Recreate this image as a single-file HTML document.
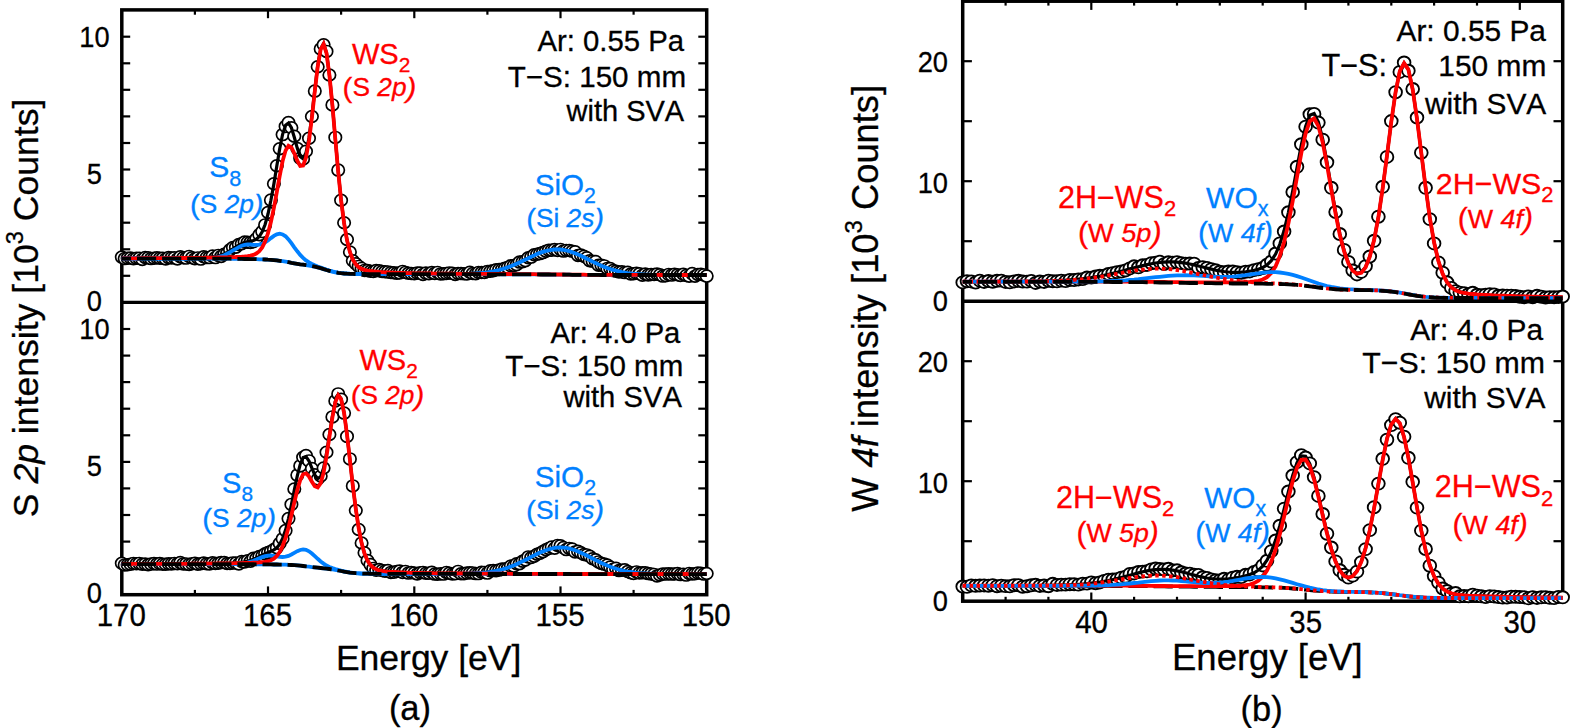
<!DOCTYPE html>
<html><head><meta charset="utf-8"><title>XPS spectra</title>
<style>
html,body{margin:0;padding:0;background:#fff;}
body{width:1570px;height:728px;overflow:hidden;}
svg{display:block;font-family:"Liberation Sans",sans-serif;}
polyline{fill:none;stroke-linejoin:miter;stroke-miterlimit:10;}
text{white-space:pre;font-kerning:none;stroke-width:0.3px;paint-order:stroke;}
</style></head><body>
<svg width="1570" height="728" viewBox="0 0 1570 728">
<rect width="1570" height="728" fill="#fff"/>
<g stroke="#000" fill="none"><rect x="121.8" y="9.9" width="584.9" height="584.8" fill="none" stroke-width="3.5"/>
<line x1="194.9" y1="9.9" x2="194.9" y2="14.7" stroke-width="2.2"/>
<line x1="194.9" y1="594.7" x2="194.9" y2="589.9" stroke-width="2.2"/>
<line x1="268.0" y1="9.9" x2="268.0" y2="18.2" stroke-width="2.2"/>
<line x1="268.0" y1="594.7" x2="268.0" y2="586.4" stroke-width="2.2"/>
<line x1="341.1" y1="9.9" x2="341.1" y2="14.7" stroke-width="2.2"/>
<line x1="341.1" y1="594.7" x2="341.1" y2="589.9" stroke-width="2.2"/>
<line x1="414.3" y1="9.9" x2="414.3" y2="18.2" stroke-width="2.2"/>
<line x1="414.3" y1="594.7" x2="414.3" y2="586.4" stroke-width="2.2"/>
<line x1="487.4" y1="9.9" x2="487.4" y2="14.7" stroke-width="2.2"/>
<line x1="487.4" y1="594.7" x2="487.4" y2="589.9" stroke-width="2.2"/>
<line x1="560.5" y1="9.9" x2="560.5" y2="18.2" stroke-width="2.2"/>
<line x1="560.5" y1="594.7" x2="560.5" y2="586.4" stroke-width="2.2"/>
<line x1="633.6" y1="9.9" x2="633.6" y2="14.7" stroke-width="2.2"/>
<line x1="633.6" y1="594.7" x2="633.6" y2="589.9" stroke-width="2.2"/>
<line x1="121.8" y1="275.8" x2="130.2" y2="275.8" stroke-width="2.2"/>
<line x1="706.7" y1="275.8" x2="698.3" y2="275.8" stroke-width="2.2"/>
<line x1="121.8" y1="249.3" x2="130.2" y2="249.3" stroke-width="2.2"/>
<line x1="706.7" y1="249.3" x2="698.3" y2="249.3" stroke-width="2.2"/>
<line x1="121.8" y1="222.7" x2="130.2" y2="222.7" stroke-width="2.2"/>
<line x1="706.7" y1="222.7" x2="698.3" y2="222.7" stroke-width="2.2"/>
<line x1="121.8" y1="196.1" x2="130.2" y2="196.1" stroke-width="2.2"/>
<line x1="706.7" y1="196.1" x2="698.3" y2="196.1" stroke-width="2.2"/>
<line x1="121.8" y1="169.5" x2="130.2" y2="169.5" stroke-width="2.2"/>
<line x1="706.7" y1="169.5" x2="698.3" y2="169.5" stroke-width="2.2"/>
<line x1="121.8" y1="143.0" x2="130.2" y2="143.0" stroke-width="2.2"/>
<line x1="706.7" y1="143.0" x2="698.3" y2="143.0" stroke-width="2.2"/>
<line x1="121.8" y1="116.4" x2="130.2" y2="116.4" stroke-width="2.2"/>
<line x1="706.7" y1="116.4" x2="698.3" y2="116.4" stroke-width="2.2"/>
<line x1="121.8" y1="89.8" x2="130.2" y2="89.8" stroke-width="2.2"/>
<line x1="706.7" y1="89.8" x2="698.3" y2="89.8" stroke-width="2.2"/>
<line x1="121.8" y1="63.3" x2="130.2" y2="63.3" stroke-width="2.2"/>
<line x1="706.7" y1="63.3" x2="698.3" y2="63.3" stroke-width="2.2"/>
<line x1="121.8" y1="36.7" x2="130.2" y2="36.7" stroke-width="2.2"/>
<line x1="706.7" y1="36.7" x2="698.3" y2="36.7" stroke-width="2.2"/>
<line x1="121.8" y1="568.1" x2="130.2" y2="568.1" stroke-width="2.2"/>
<line x1="706.7" y1="568.1" x2="698.3" y2="568.1" stroke-width="2.2"/>
<line x1="121.8" y1="541.6" x2="130.2" y2="541.6" stroke-width="2.2"/>
<line x1="706.7" y1="541.6" x2="698.3" y2="541.6" stroke-width="2.2"/>
<line x1="121.8" y1="515.0" x2="130.2" y2="515.0" stroke-width="2.2"/>
<line x1="706.7" y1="515.0" x2="698.3" y2="515.0" stroke-width="2.2"/>
<line x1="121.8" y1="488.4" x2="130.2" y2="488.4" stroke-width="2.2"/>
<line x1="706.7" y1="488.4" x2="698.3" y2="488.4" stroke-width="2.2"/>
<line x1="121.8" y1="461.9" x2="130.2" y2="461.9" stroke-width="2.2"/>
<line x1="706.7" y1="461.9" x2="698.3" y2="461.9" stroke-width="2.2"/>
<line x1="121.8" y1="435.3" x2="130.2" y2="435.3" stroke-width="2.2"/>
<line x1="706.7" y1="435.3" x2="698.3" y2="435.3" stroke-width="2.2"/>
<line x1="121.8" y1="408.7" x2="130.2" y2="408.7" stroke-width="2.2"/>
<line x1="706.7" y1="408.7" x2="698.3" y2="408.7" stroke-width="2.2"/>
<line x1="121.8" y1="382.1" x2="130.2" y2="382.1" stroke-width="2.2"/>
<line x1="706.7" y1="382.1" x2="698.3" y2="382.1" stroke-width="2.2"/>
<line x1="121.8" y1="355.6" x2="130.2" y2="355.6" stroke-width="2.2"/>
<line x1="706.7" y1="355.6" x2="698.3" y2="355.6" stroke-width="2.2"/>
<line x1="121.8" y1="329.0" x2="130.2" y2="329.0" stroke-width="2.2"/>
<line x1="706.7" y1="329.0" x2="698.3" y2="329.0" stroke-width="2.2"/>
<rect x="962.7" y="1.2" width="600.0" height="600.0" fill="none" stroke-width="3.5"/>
<line x1="1005.6" y1="1.2" x2="1005.6" y2="5.6" stroke-width="2.2"/>
<line x1="1005.6" y1="601.2" x2="1005.6" y2="596.8" stroke-width="2.2"/>
<line x1="1048.4" y1="1.2" x2="1048.4" y2="5.6" stroke-width="2.2"/>
<line x1="1048.4" y1="601.2" x2="1048.4" y2="596.8" stroke-width="2.2"/>
<line x1="1091.3" y1="1.2" x2="1091.3" y2="9.9" stroke-width="2.2"/>
<line x1="1091.3" y1="601.2" x2="1091.3" y2="592.5" stroke-width="2.2"/>
<line x1="1134.1" y1="1.2" x2="1134.1" y2="5.6" stroke-width="2.2"/>
<line x1="1134.1" y1="601.2" x2="1134.1" y2="596.8" stroke-width="2.2"/>
<line x1="1177.0" y1="1.2" x2="1177.0" y2="5.6" stroke-width="2.2"/>
<line x1="1177.0" y1="601.2" x2="1177.0" y2="596.8" stroke-width="2.2"/>
<line x1="1219.8" y1="1.2" x2="1219.8" y2="5.6" stroke-width="2.2"/>
<line x1="1219.8" y1="601.2" x2="1219.8" y2="596.8" stroke-width="2.2"/>
<line x1="1262.7" y1="1.2" x2="1262.7" y2="5.6" stroke-width="2.2"/>
<line x1="1262.7" y1="601.2" x2="1262.7" y2="596.8" stroke-width="2.2"/>
<line x1="1305.6" y1="1.2" x2="1305.6" y2="9.9" stroke-width="2.2"/>
<line x1="1305.6" y1="601.2" x2="1305.6" y2="592.5" stroke-width="2.2"/>
<line x1="1348.4" y1="1.2" x2="1348.4" y2="5.6" stroke-width="2.2"/>
<line x1="1348.4" y1="601.2" x2="1348.4" y2="596.8" stroke-width="2.2"/>
<line x1="1391.3" y1="1.2" x2="1391.3" y2="5.6" stroke-width="2.2"/>
<line x1="1391.3" y1="601.2" x2="1391.3" y2="596.8" stroke-width="2.2"/>
<line x1="1434.1" y1="1.2" x2="1434.1" y2="5.6" stroke-width="2.2"/>
<line x1="1434.1" y1="601.2" x2="1434.1" y2="596.8" stroke-width="2.2"/>
<line x1="1477.0" y1="1.2" x2="1477.0" y2="5.6" stroke-width="2.2"/>
<line x1="1477.0" y1="601.2" x2="1477.0" y2="596.8" stroke-width="2.2"/>
<line x1="1519.8" y1="1.2" x2="1519.8" y2="9.9" stroke-width="2.2"/>
<line x1="1519.8" y1="601.2" x2="1519.8" y2="592.5" stroke-width="2.2"/>
<line x1="962.7" y1="241.2" x2="971.9" y2="241.2" stroke-width="2.2"/>
<line x1="1562.7" y1="241.2" x2="1553.5" y2="241.2" stroke-width="2.2"/>
<line x1="962.7" y1="181.2" x2="971.9" y2="181.2" stroke-width="2.2"/>
<line x1="1562.7" y1="181.2" x2="1553.5" y2="181.2" stroke-width="2.2"/>
<line x1="962.7" y1="121.2" x2="971.9" y2="121.2" stroke-width="2.2"/>
<line x1="1562.7" y1="121.2" x2="1553.5" y2="121.2" stroke-width="2.2"/>
<line x1="962.7" y1="61.2" x2="971.9" y2="61.2" stroke-width="2.2"/>
<line x1="1562.7" y1="61.2" x2="1553.5" y2="61.2" stroke-width="2.2"/>
<line x1="962.7" y1="541.2" x2="971.9" y2="541.2" stroke-width="2.2"/>
<line x1="1562.7" y1="541.2" x2="1553.5" y2="541.2" stroke-width="2.2"/>
<line x1="962.7" y1="481.2" x2="971.9" y2="481.2" stroke-width="2.2"/>
<line x1="1562.7" y1="481.2" x2="1553.5" y2="481.2" stroke-width="2.2"/>
<line x1="962.7" y1="421.2" x2="971.9" y2="421.2" stroke-width="2.2"/>
<line x1="1562.7" y1="421.2" x2="1553.5" y2="421.2" stroke-width="2.2"/>
<line x1="962.7" y1="361.2" x2="971.9" y2="361.2" stroke-width="2.2"/>
<line x1="1562.7" y1="361.2" x2="1553.5" y2="361.2" stroke-width="2.2"/></g>
<g fill="#fff" stroke="#000" stroke-width="1.7"><ellipse cx="121.8" cy="257.1" rx="6.2" ry="5.9"/><ellipse cx="124.7" cy="258.6" rx="6.2" ry="5.9"/><ellipse cx="127.6" cy="258.2" rx="6.2" ry="5.9"/><ellipse cx="130.6" cy="258.0" rx="6.2" ry="5.9"/><ellipse cx="133.5" cy="258.7" rx="6.2" ry="5.9"/><ellipse cx="136.4" cy="258.2" rx="6.2" ry="5.9"/><ellipse cx="139.3" cy="258.2" rx="6.2" ry="5.9"/><ellipse cx="142.3" cy="259.4" rx="6.2" ry="5.9"/><ellipse cx="145.2" cy="257.5" rx="6.2" ry="5.9"/><ellipse cx="148.1" cy="257.7" rx="6.2" ry="5.9"/><ellipse cx="151.0" cy="258.6" rx="6.2" ry="5.9"/><ellipse cx="154.0" cy="258.2" rx="6.2" ry="5.9"/><ellipse cx="156.9" cy="257.8" rx="6.2" ry="5.9"/><ellipse cx="159.8" cy="258.3" rx="6.2" ry="5.9"/><ellipse cx="162.7" cy="258.2" rx="6.2" ry="5.9"/><ellipse cx="165.7" cy="259.0" rx="6.2" ry="5.9"/><ellipse cx="168.6" cy="257.6" rx="6.2" ry="5.9"/><ellipse cx="171.5" cy="257.9" rx="6.2" ry="5.9"/><ellipse cx="174.4" cy="257.8" rx="6.2" ry="5.9"/><ellipse cx="177.4" cy="259.0" rx="6.2" ry="5.9"/><ellipse cx="180.3" cy="256.8" rx="6.2" ry="5.9"/><ellipse cx="183.2" cy="257.8" rx="6.2" ry="5.9"/><ellipse cx="186.1" cy="258.1" rx="6.2" ry="5.9"/><ellipse cx="189.1" cy="256.4" rx="6.2" ry="5.9"/><ellipse cx="192.0" cy="257.8" rx="6.2" ry="5.9"/><ellipse cx="194.9" cy="258.7" rx="6.2" ry="5.9"/><ellipse cx="197.8" cy="257.9" rx="6.2" ry="5.9"/><ellipse cx="200.8" cy="259.1" rx="6.2" ry="5.9"/><ellipse cx="203.7" cy="256.8" rx="6.2" ry="5.9"/><ellipse cx="206.6" cy="257.6" rx="6.2" ry="5.9"/><ellipse cx="209.5" cy="257.6" rx="6.2" ry="5.9"/><ellipse cx="212.5" cy="256.1" rx="6.2" ry="5.9"/><ellipse cx="215.4" cy="257.6" rx="6.2" ry="5.9"/><ellipse cx="218.3" cy="255.4" rx="6.2" ry="5.9"/><ellipse cx="221.2" cy="256.4" rx="6.2" ry="5.9"/><ellipse cx="224.2" cy="254.3" rx="6.2" ry="5.9"/><ellipse cx="227.1" cy="253.3" rx="6.2" ry="5.9"/><ellipse cx="230.0" cy="249.7" rx="6.2" ry="5.9"/><ellipse cx="232.9" cy="247.6" rx="6.2" ry="5.9"/><ellipse cx="235.9" cy="247.2" rx="6.2" ry="5.9"/><ellipse cx="238.8" cy="244.5" rx="6.2" ry="5.9"/><ellipse cx="241.7" cy="243.7" rx="6.2" ry="5.9"/><ellipse cx="244.6" cy="242.0" rx="6.2" ry="5.9"/><ellipse cx="247.6" cy="242.2" rx="6.2" ry="5.9"/><ellipse cx="250.5" cy="242.4" rx="6.2" ry="5.9"/><ellipse cx="253.4" cy="241.8" rx="6.2" ry="5.9"/><ellipse cx="256.3" cy="238.9" rx="6.2" ry="5.9"/><ellipse cx="259.3" cy="234.8" rx="6.2" ry="5.9"/><ellipse cx="262.2" cy="231.6" rx="6.2" ry="5.9"/><ellipse cx="265.1" cy="224.9" rx="6.2" ry="5.9"/><ellipse cx="268.0" cy="212.5" rx="6.2" ry="5.9"/><ellipse cx="270.9" cy="200.1" rx="6.2" ry="5.9"/><ellipse cx="273.9" cy="183.8" rx="6.2" ry="5.9"/><ellipse cx="276.8" cy="165.8" rx="6.2" ry="5.9"/><ellipse cx="279.7" cy="148.8" rx="6.2" ry="5.9"/><ellipse cx="282.6" cy="134.6" rx="6.2" ry="5.9"/><ellipse cx="285.6" cy="126.4" rx="6.2" ry="5.9"/><ellipse cx="288.5" cy="122.5" rx="6.2" ry="5.9"/><ellipse cx="291.4" cy="127.8" rx="6.2" ry="5.9"/><ellipse cx="294.3" cy="136.3" rx="6.2" ry="5.9"/><ellipse cx="297.3" cy="148.6" rx="6.2" ry="5.9"/><ellipse cx="300.2" cy="158.3" rx="6.2" ry="5.9"/><ellipse cx="303.1" cy="158.9" rx="6.2" ry="5.9"/><ellipse cx="306.0" cy="151.2" rx="6.2" ry="5.9"/><ellipse cx="309.0" cy="138.2" rx="6.2" ry="5.9"/><ellipse cx="311.9" cy="116.5" rx="6.2" ry="5.9"/><ellipse cx="314.8" cy="91.1" rx="6.2" ry="5.9"/><ellipse cx="317.7" cy="66.7" rx="6.2" ry="5.9"/><ellipse cx="320.7" cy="48.9" rx="6.2" ry="5.9"/><ellipse cx="323.6" cy="44.8" rx="6.2" ry="5.9"/><ellipse cx="326.5" cy="51.4" rx="6.2" ry="5.9"/><ellipse cx="329.4" cy="75.0" rx="6.2" ry="5.9"/><ellipse cx="332.4" cy="104.9" rx="6.2" ry="5.9"/><ellipse cx="335.3" cy="137.4" rx="6.2" ry="5.9"/><ellipse cx="338.2" cy="170.1" rx="6.2" ry="5.9"/><ellipse cx="341.1" cy="200.2" rx="6.2" ry="5.9"/><ellipse cx="344.1" cy="222.7" rx="6.2" ry="5.9"/><ellipse cx="347.0" cy="239.5" rx="6.2" ry="5.9"/><ellipse cx="349.9" cy="252.0" rx="6.2" ry="5.9"/><ellipse cx="352.8" cy="260.8" rx="6.2" ry="5.9"/><ellipse cx="355.8" cy="263.8" rx="6.2" ry="5.9"/><ellipse cx="358.7" cy="266.4" rx="6.2" ry="5.9"/><ellipse cx="361.6" cy="268.4" rx="6.2" ry="5.9"/><ellipse cx="364.5" cy="270.4" rx="6.2" ry="5.9"/><ellipse cx="367.5" cy="270.6" rx="6.2" ry="5.9"/><ellipse cx="370.4" cy="271.3" rx="6.2" ry="5.9"/><ellipse cx="373.3" cy="271.5" rx="6.2" ry="5.9"/><ellipse cx="376.2" cy="270.6" rx="6.2" ry="5.9"/><ellipse cx="379.2" cy="270.7" rx="6.2" ry="5.9"/><ellipse cx="382.1" cy="271.5" rx="6.2" ry="5.9"/><ellipse cx="385.0" cy="271.8" rx="6.2" ry="5.9"/><ellipse cx="387.9" cy="271.9" rx="6.2" ry="5.9"/><ellipse cx="390.9" cy="272.5" rx="6.2" ry="5.9"/><ellipse cx="393.8" cy="272.7" rx="6.2" ry="5.9"/><ellipse cx="396.7" cy="273.2" rx="6.2" ry="5.9"/><ellipse cx="399.6" cy="272.9" rx="6.2" ry="5.9"/><ellipse cx="402.6" cy="271.4" rx="6.2" ry="5.9"/><ellipse cx="405.5" cy="272.4" rx="6.2" ry="5.9"/><ellipse cx="408.4" cy="273.3" rx="6.2" ry="5.9"/><ellipse cx="411.3" cy="273.5" rx="6.2" ry="5.9"/><ellipse cx="414.3" cy="273.8" rx="6.2" ry="5.9"/><ellipse cx="417.2" cy="273.0" rx="6.2" ry="5.9"/><ellipse cx="420.1" cy="273.1" rx="6.2" ry="5.9"/><ellipse cx="423.0" cy="274.4" rx="6.2" ry="5.9"/><ellipse cx="425.9" cy="273.1" rx="6.2" ry="5.9"/><ellipse cx="428.9" cy="273.8" rx="6.2" ry="5.9"/><ellipse cx="431.8" cy="272.5" rx="6.2" ry="5.9"/><ellipse cx="434.7" cy="273.4" rx="6.2" ry="5.9"/><ellipse cx="437.6" cy="272.4" rx="6.2" ry="5.9"/><ellipse cx="440.6" cy="273.9" rx="6.2" ry="5.9"/><ellipse cx="443.5" cy="273.8" rx="6.2" ry="5.9"/><ellipse cx="446.4" cy="273.4" rx="6.2" ry="5.9"/><ellipse cx="449.3" cy="272.9" rx="6.2" ry="5.9"/><ellipse cx="452.3" cy="273.2" rx="6.2" ry="5.9"/><ellipse cx="455.2" cy="274.5" rx="6.2" ry="5.9"/><ellipse cx="458.1" cy="273.5" rx="6.2" ry="5.9"/><ellipse cx="461.0" cy="273.6" rx="6.2" ry="5.9"/><ellipse cx="464.0" cy="273.8" rx="6.2" ry="5.9"/><ellipse cx="466.9" cy="273.9" rx="6.2" ry="5.9"/><ellipse cx="469.8" cy="272.2" rx="6.2" ry="5.9"/><ellipse cx="472.7" cy="273.5" rx="6.2" ry="5.9"/><ellipse cx="475.7" cy="273.7" rx="6.2" ry="5.9"/><ellipse cx="478.6" cy="272.4" rx="6.2" ry="5.9"/><ellipse cx="481.5" cy="272.5" rx="6.2" ry="5.9"/><ellipse cx="484.4" cy="272.4" rx="6.2" ry="5.9"/><ellipse cx="487.4" cy="271.4" rx="6.2" ry="5.9"/><ellipse cx="490.3" cy="271.2" rx="6.2" ry="5.9"/><ellipse cx="493.2" cy="270.8" rx="6.2" ry="5.9"/><ellipse cx="496.1" cy="269.7" rx="6.2" ry="5.9"/><ellipse cx="499.1" cy="269.5" rx="6.2" ry="5.9"/><ellipse cx="502.0" cy="269.3" rx="6.2" ry="5.9"/><ellipse cx="504.9" cy="268.3" rx="6.2" ry="5.9"/><ellipse cx="507.8" cy="267.4" rx="6.2" ry="5.9"/><ellipse cx="510.8" cy="265.8" rx="6.2" ry="5.9"/><ellipse cx="513.7" cy="265.5" rx="6.2" ry="5.9"/><ellipse cx="516.6" cy="264.8" rx="6.2" ry="5.9"/><ellipse cx="519.5" cy="262.1" rx="6.2" ry="5.9"/><ellipse cx="522.5" cy="261.8" rx="6.2" ry="5.9"/><ellipse cx="525.4" cy="260.8" rx="6.2" ry="5.9"/><ellipse cx="528.3" cy="257.7" rx="6.2" ry="5.9"/><ellipse cx="531.2" cy="257.1" rx="6.2" ry="5.9"/><ellipse cx="534.2" cy="254.8" rx="6.2" ry="5.9"/><ellipse cx="537.1" cy="254.3" rx="6.2" ry="5.9"/><ellipse cx="540.0" cy="253.6" rx="6.2" ry="5.9"/><ellipse cx="542.9" cy="252.6" rx="6.2" ry="5.9"/><ellipse cx="545.9" cy="251.2" rx="6.2" ry="5.9"/><ellipse cx="548.8" cy="250.3" rx="6.2" ry="5.9"/><ellipse cx="551.7" cy="250.2" rx="6.2" ry="5.9"/><ellipse cx="554.6" cy="249.5" rx="6.2" ry="5.9"/><ellipse cx="557.6" cy="250.4" rx="6.2" ry="5.9"/><ellipse cx="560.5" cy="249.4" rx="6.2" ry="5.9"/><ellipse cx="563.4" cy="251.1" rx="6.2" ry="5.9"/><ellipse cx="566.3" cy="250.4" rx="6.2" ry="5.9"/><ellipse cx="569.2" cy="250.5" rx="6.2" ry="5.9"/><ellipse cx="572.2" cy="251.2" rx="6.2" ry="5.9"/><ellipse cx="575.1" cy="251.8" rx="6.2" ry="5.9"/><ellipse cx="578.0" cy="255.5" rx="6.2" ry="5.9"/><ellipse cx="580.9" cy="255.1" rx="6.2" ry="5.9"/><ellipse cx="583.9" cy="256.2" rx="6.2" ry="5.9"/><ellipse cx="586.8" cy="257.8" rx="6.2" ry="5.9"/><ellipse cx="589.7" cy="260.7" rx="6.2" ry="5.9"/><ellipse cx="592.6" cy="261.2" rx="6.2" ry="5.9"/><ellipse cx="595.6" cy="261.5" rx="6.2" ry="5.9"/><ellipse cx="598.5" cy="265.3" rx="6.2" ry="5.9"/><ellipse cx="601.4" cy="265.2" rx="6.2" ry="5.9"/><ellipse cx="604.3" cy="265.9" rx="6.2" ry="5.9"/><ellipse cx="607.3" cy="268.4" rx="6.2" ry="5.9"/><ellipse cx="610.2" cy="268.5" rx="6.2" ry="5.9"/><ellipse cx="613.1" cy="270.6" rx="6.2" ry="5.9"/><ellipse cx="616.0" cy="271.2" rx="6.2" ry="5.9"/><ellipse cx="619.0" cy="271.9" rx="6.2" ry="5.9"/><ellipse cx="621.9" cy="271.8" rx="6.2" ry="5.9"/><ellipse cx="624.8" cy="272.6" rx="6.2" ry="5.9"/><ellipse cx="627.7" cy="272.3" rx="6.2" ry="5.9"/><ellipse cx="630.7" cy="274.0" rx="6.2" ry="5.9"/><ellipse cx="633.6" cy="273.8" rx="6.2" ry="5.9"/><ellipse cx="636.5" cy="273.3" rx="6.2" ry="5.9"/><ellipse cx="639.4" cy="273.8" rx="6.2" ry="5.9"/><ellipse cx="642.4" cy="275.2" rx="6.2" ry="5.9"/><ellipse cx="645.3" cy="274.0" rx="6.2" ry="5.9"/><ellipse cx="648.2" cy="274.9" rx="6.2" ry="5.9"/><ellipse cx="651.1" cy="274.4" rx="6.2" ry="5.9"/><ellipse cx="654.1" cy="274.5" rx="6.2" ry="5.9"/><ellipse cx="657.0" cy="274.0" rx="6.2" ry="5.9"/><ellipse cx="659.9" cy="274.8" rx="6.2" ry="5.9"/><ellipse cx="662.8" cy="276.1" rx="6.2" ry="5.9"/><ellipse cx="665.8" cy="275.8" rx="6.2" ry="5.9"/><ellipse cx="668.7" cy="274.4" rx="6.2" ry="5.9"/><ellipse cx="671.6" cy="275.1" rx="6.2" ry="5.9"/><ellipse cx="674.5" cy="274.2" rx="6.2" ry="5.9"/><ellipse cx="677.5" cy="274.8" rx="6.2" ry="5.9"/><ellipse cx="680.4" cy="275.4" rx="6.2" ry="5.9"/><ellipse cx="683.3" cy="274.2" rx="6.2" ry="5.9"/><ellipse cx="686.2" cy="275.5" rx="6.2" ry="5.9"/><ellipse cx="689.2" cy="276.3" rx="6.2" ry="5.9"/><ellipse cx="692.1" cy="273.6" rx="6.2" ry="5.9"/><ellipse cx="695.0" cy="276.2" rx="6.2" ry="5.9"/><ellipse cx="697.9" cy="274.5" rx="6.2" ry="5.9"/><ellipse cx="700.9" cy="274.3" rx="6.2" ry="5.9"/><ellipse cx="703.8" cy="274.9" rx="6.2" ry="5.9"/><ellipse cx="706.7" cy="276.1" rx="6.2" ry="5.9"/></g>
<polyline points="121.8,258.3 124.7,258.2 127.6,258.2 130.6,258.2 133.5,258.2 136.4,258.2 139.3,258.2 142.3,258.2 145.2,258.2 148.1,258.2 151.0,258.1 154.0,258.1 156.9,258.1 159.8,258.1 162.7,258.1 165.7,258.0 168.6,258.0 171.5,258.0 174.4,258.0 177.4,257.9 180.3,257.9 183.2,257.9 186.1,257.8 189.1,257.8 192.0,257.8 194.9,257.7 197.8,257.6 200.8,257.6 203.7,257.5 206.6,257.3 209.5,257.1 212.5,256.8 215.4,256.4 218.3,255.8 221.2,255.0 224.2,253.8 227.1,252.4 230.0,250.7 232.9,248.9 235.9,246.9 238.8,245.1 241.7,243.6 244.6,242.4 247.6,241.7 250.5,241.1 253.4,240.5 256.3,239.2 259.3,236.5 262.2,231.8 265.1,224.5 268.0,214.0 270.9,200.3 273.9,183.9 276.8,166.0 279.7,148.7 282.6,134.3 285.6,125.2 288.5,123.0 291.4,127.7 294.3,137.3 297.3,148.3 300.2,156.6 303.1,158.8 306.0,152.7 309.0,137.8 311.9,115.7 314.8,90.0 317.7,65.8 320.7,48.7 323.6,43.6 326.5,52.8 329.4,74.7 332.4,105.0 335.3,138.7 338.2,171.4 341.1,200.0 344.1,223.0 347.0,240.0 349.9,251.8 352.8,259.5 355.8,264.2 358.7,267.1 361.6,268.7 364.5,269.8 367.5,270.4 370.4,270.9 373.3,271.3 376.2,271.5 379.2,271.8 382.1,272.0 385.0,272.2 387.9,272.3 390.9,272.5 393.8,272.6 396.7,272.7 399.6,272.8 402.6,272.9 405.5,273.0 408.4,273.1 411.3,273.2 414.3,273.2 417.2,273.3 420.1,273.3 423.0,273.4 425.9,273.4 428.9,273.5 431.8,273.5 434.7,273.5 437.6,273.6 440.6,273.6 443.5,273.6 446.4,273.6 449.3,273.6 452.3,273.6 455.2,273.6 458.1,273.6 461.0,273.6 464.0,273.5 466.9,273.5 469.8,273.4 472.7,273.2 475.7,273.1 478.6,272.9 481.5,272.6 484.4,272.3 487.4,272.0 490.3,271.5 493.2,271.0 496.1,270.4 499.1,269.7 502.0,268.9 504.9,268.0 507.8,267.0 510.8,265.9 513.7,264.8 516.6,263.5 519.5,262.2 522.5,260.8 525.4,259.4 528.3,258.0 531.2,256.6 534.2,255.2 537.1,253.9 540.0,252.8 542.9,251.7 545.9,250.8 548.8,250.1 551.7,249.6 554.6,249.3 557.6,249.2 560.5,249.4 563.4,249.7 566.3,250.3 569.2,251.1 572.2,252.0 575.1,253.1 578.0,254.4 580.9,255.7 583.9,257.1 586.8,258.5 589.7,260.0 592.6,261.5 595.6,262.9 598.5,264.2 601.4,265.5 604.3,266.7 607.3,267.9 610.2,268.9 613.1,269.8 616.0,270.6 619.0,271.3 621.9,272.0 624.8,272.5 627.7,273.0 630.7,273.3 633.6,273.7 636.5,273.9 639.4,274.1 642.4,274.3 645.3,274.5 648.2,274.6 651.1,274.7 654.1,274.7 657.0,274.8 659.9,274.8 662.8,274.9 665.8,274.9 668.7,274.9 671.6,274.9 674.5,274.9 677.5,274.9 680.4,274.9 683.3,275.0 686.2,275.0 689.2,275.0 692.1,275.0 695.0,275.0 697.9,275.0 700.9,275.0 703.8,275.0 706.7,275.0" stroke="#000" stroke-width="3.2"/>
<polyline points="121.8,258.5 124.7,258.5 127.6,258.5 130.6,258.5 133.5,258.5 136.4,258.5 139.3,258.5 142.3,258.5 145.2,258.5 148.1,258.5 151.0,258.5 154.0,258.5 156.9,258.5 159.8,258.5 162.7,258.5 165.7,258.5 168.6,258.5 171.5,258.5 174.4,258.5 177.4,258.5 180.3,258.5 183.2,258.5 186.1,258.5 189.1,258.4 192.0,258.4 194.9,258.4 197.8,258.4 200.8,258.4 203.7,258.3 206.6,258.2 209.5,258.1 212.5,257.9 215.4,257.5 218.3,257.0 221.2,256.2 224.2,255.2 227.1,253.8 230.0,252.3 232.9,250.5 235.9,248.8 238.8,247.1 241.7,245.8 244.6,244.9 247.6,244.5 250.5,244.5 253.4,244.8 256.3,244.9 259.3,244.7 262.2,243.9 265.1,242.4 268.0,240.4 270.9,238.1 273.9,235.9 276.8,234.3 279.7,233.7 282.6,234.4 285.6,236.3 288.5,239.4 291.4,243.2 294.3,247.3 297.3,251.3 300.2,254.9 303.1,257.9 306.0,260.4 309.0,262.4 311.9,264.0 314.8,265.3 317.7,266.5 320.7,267.5 323.6,268.6 326.5,269.6 329.4,270.5 332.4,271.3 335.3,272.0 338.2,272.6 341.1,273.0 344.1,273.3 347.0,273.5 349.9,273.7 352.8,273.8 355.8,273.8 358.7,273.9 361.6,273.9 364.5,273.9 367.5,274.0 370.4,274.0 373.3,274.0 376.2,274.0 379.2,274.0 382.1,274.0 385.0,274.1 387.9,274.1 390.9,274.1 393.8,274.1 396.7,274.1 399.6,274.1 402.6,274.1 405.5,274.1 408.4,274.1 411.3,274.1 414.3,274.1 417.2,274.1 420.1,274.2 423.0,274.2 425.9,274.2 428.9,274.2 431.8,274.2 434.7,274.2 437.6,274.2 440.6,274.2 443.5,274.2 446.4,274.2 449.3,274.2 452.3,274.2 455.2,274.2 458.1,274.2 461.0,274.2 464.0,274.2 466.9,274.2 469.8,274.2 472.7,274.2 475.7,274.2 478.6,274.2 481.5,274.2 484.4,274.2 487.4,274.2 490.3,274.2 493.2,274.2 496.1,274.2 499.1,274.2 502.0,274.3 504.9,274.3 507.8,274.3 510.8,274.3 513.7,274.3 516.6,274.3 519.5,274.3 522.5,274.3 525.4,274.3 528.3,274.4 531.2,274.4 534.2,274.4 537.1,274.4 540.0,274.4 542.9,274.5 545.9,274.5 548.8,274.5 551.7,274.6 554.6,274.6 557.6,274.6 560.5,274.6 563.4,274.7 566.3,274.7 569.2,274.7 572.2,274.8 575.1,274.8 578.0,274.8 580.9,274.8 583.9,274.8 586.8,274.9 589.7,274.9 592.6,274.9 595.6,274.9 598.5,274.9 601.4,274.9 604.3,275.0 607.3,275.0 610.2,275.0 613.1,275.0 616.0,275.0 619.0,275.0 621.9,275.0 624.8,275.0 627.7,275.0 630.7,275.0 633.6,275.0 636.5,275.0 639.4,275.0 642.4,275.0 645.3,275.0 648.2,275.0 651.1,275.0 654.1,275.0 657.0,275.0 659.9,275.0 662.8,275.0 665.8,275.0 668.7,275.0 671.6,275.0 674.5,275.0 677.5,275.0 680.4,275.0 683.3,275.0 686.2,275.0 689.2,275.0 692.1,275.0 695.0,275.0 697.9,275.0 700.9,275.0 703.8,275.0 706.7,275.0" stroke="#0080ff" stroke-width="3.8"/>
<polyline points="121.8,258.6 124.7,258.6 127.6,258.6 130.6,258.6 133.5,258.6 136.4,258.6 139.3,258.6 142.3,258.6 145.2,258.6 148.1,258.6 151.0,258.6 154.0,258.6 156.9,258.6 159.8,258.6 162.7,258.6 165.7,258.6 168.6,258.6 171.5,258.6 174.4,258.6 177.4,258.6 180.3,258.6 183.2,258.6 186.1,258.6 189.1,258.6 192.0,258.6 194.9,258.6 197.8,258.6 200.8,258.6 203.7,258.6 206.6,258.6 209.5,258.6 212.5,258.6 215.4,258.6 218.3,258.7 221.2,258.7 224.2,258.7 227.1,258.7 230.0,258.7 232.9,258.8 235.9,258.8 238.8,258.8 241.7,258.9 244.6,259.0 247.6,259.0 250.5,259.1 253.4,259.2 256.3,259.2 259.3,259.3 262.2,259.4 265.1,259.5 268.0,259.7 270.9,259.8 273.9,260.1 276.8,260.4 279.7,260.8 282.6,261.2 285.6,261.7 288.5,262.2 291.4,262.8 294.3,263.3 297.3,263.8 300.2,264.3 303.1,264.7 306.0,265.1 309.0,265.6 311.9,266.1 314.8,266.7 317.7,267.4 320.7,268.2 323.6,269.1 326.5,270.0 329.4,270.8 332.4,271.6 335.3,272.3 338.2,272.8 341.1,273.2 344.1,273.5 347.0,273.7 349.9,273.8 352.8,273.9 355.8,274.0 358.7,274.0 361.6,274.0 364.5,274.0 367.5,274.1 370.4,274.1 373.3,274.1 376.2,274.1 379.2,274.1 382.1,274.1 385.0,274.1 387.9,274.1 390.9,274.1 393.8,274.2 396.7,274.2 399.6,274.2 402.6,274.2 405.5,274.2 408.4,274.2 411.3,274.2 414.3,274.2 417.2,274.2 420.1,274.2 423.0,274.2 425.9,274.2 428.9,274.2 431.8,274.2 434.7,274.2 437.6,274.2 440.6,274.2 443.5,274.2 446.4,274.2 449.3,274.2 452.3,274.1 455.2,274.1 458.1,274.1 461.0,274.0 464.0,274.0 466.9,273.9 469.8,273.8 472.7,273.6 475.7,273.5 478.6,273.2 481.5,273.0 484.4,272.7 487.4,272.3 490.3,271.8 493.2,271.3 496.1,270.7 499.1,270.0 502.0,269.2 504.9,268.3 507.8,267.3 510.8,266.2 513.7,265.0 516.6,263.7 519.5,262.4 522.5,261.0 525.4,259.6 528.3,258.2 531.2,256.8 534.2,255.4 537.1,254.1 540.0,252.9 542.9,251.9 545.9,251.0 548.8,250.3 551.7,249.8 554.6,249.5 557.6,249.4 560.5,249.5 563.4,249.9 566.3,250.5 569.2,251.2 572.2,252.2 575.1,253.3 578.0,254.5 580.9,255.8 583.9,257.2 586.8,258.7 589.7,260.1 592.6,261.6 595.6,263.0 598.5,264.4 601.4,265.7 604.3,266.9 607.3,268.0 610.2,269.0 613.1,269.9 616.0,270.7 619.0,271.4 621.9,272.1 624.8,272.6 627.7,273.1 630.7,273.4 633.6,273.8 636.5,274.0 639.4,274.2 642.4,274.4 645.3,274.6 648.2,274.7 651.1,274.8 654.1,274.8 657.0,274.9 659.9,274.9 662.8,274.9 665.8,275.0 668.7,275.0 671.6,275.0 674.5,275.0 677.5,275.0 680.4,275.0 683.3,275.0 686.2,275.0 689.2,275.0 692.1,275.0 695.0,275.0 697.9,275.0 700.9,275.0 703.8,275.0 706.7,275.0" stroke="#0080ff" stroke-width="3.8"/>
<polyline points="121.8,258.3 124.7,258.3 127.6,258.3 130.6,258.3 133.5,258.3 136.4,258.3 139.3,258.3 142.3,258.2 145.2,258.2 148.1,258.2 151.0,258.2 154.0,258.2 156.9,258.2 159.8,258.2 162.7,258.2 165.7,258.1 168.6,258.1 171.5,258.1 174.4,258.1 177.4,258.1 180.3,258.0 183.2,258.0 186.1,258.0 189.1,258.0 192.0,257.9 194.9,257.9 197.8,257.9 200.8,257.8 203.7,257.8 206.6,257.7 209.5,257.7 212.5,257.6 215.4,257.6 218.3,257.5 221.2,257.4 224.2,257.4 227.1,257.3 230.0,257.2 232.9,257.1 235.9,257.0 238.8,256.8 241.7,256.7 244.6,256.5 247.6,256.2 250.5,255.7 253.4,254.9 256.3,253.5 259.3,251.2 262.2,247.4 265.1,241.6 268.0,233.2 270.9,222.0 273.9,208.0 276.8,192.1 279.7,175.8 282.6,161.1 285.6,150.5 288.5,145.8 291.4,147.3 294.3,153.4 297.3,160.8 300.2,166.0 303.1,165.6 306.0,157.4 309.0,141.0 311.9,117.8 314.8,91.4 317.7,66.7 320.7,49.3 323.6,44.1 326.5,53.2 329.4,75.0 332.4,105.3 335.3,138.9 338.2,171.6 341.1,200.2 344.1,223.2 347.0,240.2 349.9,252.0 352.8,259.6 355.8,264.4 358.7,267.2 361.6,268.9 364.5,269.9 367.5,270.5 370.4,271.0 373.3,271.3 376.2,271.6 379.2,271.9 382.1,272.1 385.0,272.3 387.9,272.4 390.9,272.6 393.8,272.7 396.7,272.8 399.6,272.9 402.6,273.0 405.5,273.1 408.4,273.1 411.3,273.2 414.3,273.3 417.2,273.3 420.1,273.4 423.0,273.4 425.9,273.5 428.9,273.5 431.8,273.5 434.7,273.6 437.6,273.6 440.6,273.6 443.5,273.7 446.4,273.7 449.3,273.7 452.3,273.7 455.2,273.8 458.1,273.8 461.0,273.8 464.0,273.8 466.9,273.8 469.8,273.9 472.7,273.9 475.7,273.9 478.6,273.9 481.5,273.9 484.4,273.9 487.4,273.9 490.3,274.0 493.2,274.0 496.1,274.0 499.1,274.0 502.0,274.0 504.9,274.0 507.8,274.0 510.8,274.1 513.7,274.1 516.6,274.1 519.5,274.1 522.5,274.1 525.4,274.2 528.3,274.2 531.2,274.2 534.2,274.2 537.1,274.3 540.0,274.3 542.9,274.3 545.9,274.3 548.8,274.4 551.7,274.4 554.6,274.4 557.6,274.5 560.5,274.5 563.4,274.5 566.3,274.6 569.2,274.6 572.2,274.6 575.1,274.7 578.0,274.7 580.9,274.7 583.9,274.7 586.8,274.8 589.7,274.8 592.6,274.8 595.6,274.8 598.5,274.8 601.4,274.8 604.3,274.9 607.3,274.9 610.2,274.9 613.1,274.9 616.0,274.9 619.0,274.9 621.9,274.9 624.8,274.9 627.7,274.9 630.7,274.9 633.6,274.9 636.5,274.9 639.4,274.9 642.4,274.9 645.3,274.9 648.2,274.9 651.1,274.9 654.1,274.9 657.0,274.9 659.9,275.0 662.8,275.0 665.8,275.0 668.7,275.0 671.6,275.0 674.5,275.0 677.5,275.0 680.4,275.0 683.3,275.0 686.2,275.0 689.2,275.0 692.1,275.0 695.0,275.0 697.9,275.0 700.9,275.0 703.8,275.0 706.7,275.0" stroke="#ff0000" stroke-width="3.8"/>
<polyline points="121.8,258.6 124.7,258.6 127.6,258.6 130.6,258.6 133.5,258.6 136.4,258.6 139.3,258.6 142.3,258.6 145.2,258.6 148.1,258.6 151.0,258.6 154.0,258.6 156.9,258.6 159.8,258.6 162.7,258.6 165.7,258.6 168.6,258.6 171.5,258.6 174.4,258.6 177.4,258.6 180.3,258.6 183.2,258.6 186.1,258.6 189.1,258.6 192.0,258.6 194.9,258.6 197.8,258.6 200.8,258.6 203.7,258.6 206.6,258.6 209.5,258.6 212.5,258.6 215.4,258.6 218.3,258.7 221.2,258.7 224.2,258.7 227.1,258.7 230.0,258.7 232.9,258.8 235.9,258.8 238.8,258.8 241.7,258.9 244.6,259.0 247.6,259.0 250.5,259.1 253.4,259.2 256.3,259.2 259.3,259.3 262.2,259.4 265.1,259.5 268.0,259.7 270.9,259.8 273.9,260.1 276.8,260.4 279.7,260.8 282.6,261.2 285.6,261.7 288.5,262.2 291.4,262.8 294.3,263.3 297.3,263.8 300.2,264.3 303.1,264.7 306.0,265.1 309.0,265.6 311.9,266.1 314.8,266.7 317.7,267.4 320.7,268.2 323.6,269.1 326.5,270.0 329.4,270.8 332.4,271.6 335.3,272.3 338.2,272.8 341.1,273.2 344.1,273.5 347.0,273.7 349.9,273.8 352.8,273.9 355.8,274.0 358.7,274.0 361.6,274.0 364.5,274.0 367.5,274.1 370.4,274.1 373.3,274.1 376.2,274.1 379.2,274.1 382.1,274.1 385.0,274.1 387.9,274.1 390.9,274.1 393.8,274.2 396.7,274.2 399.6,274.2 402.6,274.2 405.5,274.2 408.4,274.2 411.3,274.2 414.3,274.2 417.2,274.2 420.1,274.2 423.0,274.2 425.9,274.2 428.9,274.2 431.8,274.2 434.7,274.2 437.6,274.2 440.6,274.2 443.5,274.2 446.4,274.2 449.3,274.2 452.3,274.2 455.2,274.2 458.1,274.2 461.0,274.2 464.0,274.2 466.9,274.2 469.8,274.2 472.7,274.2 475.7,274.2 478.6,274.2 481.5,274.2 484.4,274.2 487.4,274.3 490.3,274.3 493.2,274.3 496.1,274.3 499.1,274.3 502.0,274.3 504.9,274.3 507.8,274.3 510.8,274.3 513.7,274.3 516.6,274.3 519.5,274.3 522.5,274.3 525.4,274.4 528.3,274.4 531.2,274.4 534.2,274.4 537.1,274.4 540.0,274.5 542.9,274.5 545.9,274.5 548.8,274.5 551.7,274.6 554.6,274.6 557.6,274.6 560.5,274.7 563.4,274.7 566.3,274.7 569.2,274.7 572.2,274.8 575.1,274.8 578.0,274.8 580.9,274.8 583.9,274.9 586.8,274.9 589.7,274.9 592.6,274.9 595.6,274.9 598.5,274.9 601.4,275.0 604.3,275.0 607.3,275.0 610.2,275.0 613.1,275.0 616.0,275.0 619.0,275.0 621.9,275.0 624.8,275.0 627.7,275.0 630.7,275.0 633.6,275.0 636.5,275.0 639.4,275.0 642.4,275.0 645.3,275.0 648.2,275.0 651.1,275.0 654.1,275.0 657.0,275.0 659.9,275.0 662.8,275.0 665.8,275.0 668.7,275.0 671.6,275.0 674.5,275.0 677.5,275.0 680.4,275.0 683.3,275.0 686.2,275.0 689.2,275.0 692.1,275.0 695.0,275.0 697.9,275.0 700.9,275.0 703.8,275.0 706.7,275.0" stroke="#000" stroke-width="3.8" stroke-dasharray="19.2 5.9" stroke-dashoffset="9.9"/>
<g fill="#fff" stroke="#000" stroke-width="1.85"><ellipse cx="962.7" cy="282.4" rx="6.35" ry="6.05"/><ellipse cx="967.0" cy="281.2" rx="6.35" ry="6.05"/><ellipse cx="971.3" cy="281.4" rx="6.35" ry="6.05"/><ellipse cx="975.6" cy="282.5" rx="6.35" ry="6.05"/><ellipse cx="979.8" cy="280.6" rx="6.35" ry="6.05"/><ellipse cx="984.1" cy="281.9" rx="6.35" ry="6.05"/><ellipse cx="988.4" cy="281.0" rx="6.35" ry="6.05"/><ellipse cx="992.7" cy="281.7" rx="6.35" ry="6.05"/><ellipse cx="997.0" cy="280.8" rx="6.35" ry="6.05"/><ellipse cx="1001.3" cy="280.6" rx="6.35" ry="6.05"/><ellipse cx="1005.6" cy="281.9" rx="6.35" ry="6.05"/><ellipse cx="1009.8" cy="282.3" rx="6.35" ry="6.05"/><ellipse cx="1014.1" cy="281.4" rx="6.35" ry="6.05"/><ellipse cx="1018.4" cy="280.8" rx="6.35" ry="6.05"/><ellipse cx="1022.7" cy="281.5" rx="6.35" ry="6.05"/><ellipse cx="1027.0" cy="281.6" rx="6.35" ry="6.05"/><ellipse cx="1031.3" cy="280.9" rx="6.35" ry="6.05"/><ellipse cx="1035.6" cy="282.9" rx="6.35" ry="6.05"/><ellipse cx="1039.8" cy="281.5" rx="6.35" ry="6.05"/><ellipse cx="1044.1" cy="281.9" rx="6.35" ry="6.05"/><ellipse cx="1048.4" cy="280.7" rx="6.35" ry="6.05"/><ellipse cx="1052.7" cy="281.2" rx="6.35" ry="6.05"/><ellipse cx="1057.0" cy="281.3" rx="6.35" ry="6.05"/><ellipse cx="1061.3" cy="280.6" rx="6.35" ry="6.05"/><ellipse cx="1065.6" cy="281.1" rx="6.35" ry="6.05"/><ellipse cx="1069.8" cy="279.9" rx="6.35" ry="6.05"/><ellipse cx="1074.1" cy="280.0" rx="6.35" ry="6.05"/><ellipse cx="1078.4" cy="279.4" rx="6.35" ry="6.05"/><ellipse cx="1082.7" cy="279.1" rx="6.35" ry="6.05"/><ellipse cx="1087.0" cy="277.5" rx="6.35" ry="6.05"/><ellipse cx="1091.3" cy="277.6" rx="6.35" ry="6.05"/><ellipse cx="1095.6" cy="276.5" rx="6.35" ry="6.05"/><ellipse cx="1099.8" cy="275.8" rx="6.35" ry="6.05"/><ellipse cx="1104.1" cy="275.8" rx="6.35" ry="6.05"/><ellipse cx="1108.4" cy="274.0" rx="6.35" ry="6.05"/><ellipse cx="1112.7" cy="273.1" rx="6.35" ry="6.05"/><ellipse cx="1117.0" cy="272.1" rx="6.35" ry="6.05"/><ellipse cx="1121.3" cy="271.5" rx="6.35" ry="6.05"/><ellipse cx="1125.6" cy="270.4" rx="6.35" ry="6.05"/><ellipse cx="1129.8" cy="268.4" rx="6.35" ry="6.05"/><ellipse cx="1134.1" cy="266.3" rx="6.35" ry="6.05"/><ellipse cx="1138.4" cy="267.3" rx="6.35" ry="6.05"/><ellipse cx="1142.7" cy="265.3" rx="6.35" ry="6.05"/><ellipse cx="1147.0" cy="264.9" rx="6.35" ry="6.05"/><ellipse cx="1151.3" cy="263.2" rx="6.35" ry="6.05"/><ellipse cx="1155.6" cy="262.7" rx="6.35" ry="6.05"/><ellipse cx="1159.8" cy="261.7" rx="6.35" ry="6.05"/><ellipse cx="1164.1" cy="264.1" rx="6.35" ry="6.05"/><ellipse cx="1168.4" cy="262.3" rx="6.35" ry="6.05"/><ellipse cx="1172.7" cy="262.6" rx="6.35" ry="6.05"/><ellipse cx="1177.0" cy="262.2" rx="6.35" ry="6.05"/><ellipse cx="1181.3" cy="263.1" rx="6.35" ry="6.05"/><ellipse cx="1185.6" cy="263.7" rx="6.35" ry="6.05"/><ellipse cx="1189.8" cy="263.5" rx="6.35" ry="6.05"/><ellipse cx="1194.1" cy="263.6" rx="6.35" ry="6.05"/><ellipse cx="1198.4" cy="268.0" rx="6.35" ry="6.05"/><ellipse cx="1202.7" cy="267.2" rx="6.35" ry="6.05"/><ellipse cx="1207.0" cy="267.9" rx="6.35" ry="6.05"/><ellipse cx="1211.3" cy="269.1" rx="6.35" ry="6.05"/><ellipse cx="1215.6" cy="270.3" rx="6.35" ry="6.05"/><ellipse cx="1219.8" cy="271.8" rx="6.35" ry="6.05"/><ellipse cx="1224.1" cy="272.2" rx="6.35" ry="6.05"/><ellipse cx="1228.4" cy="271.5" rx="6.35" ry="6.05"/><ellipse cx="1232.7" cy="271.5" rx="6.35" ry="6.05"/><ellipse cx="1237.0" cy="272.2" rx="6.35" ry="6.05"/><ellipse cx="1241.3" cy="272.7" rx="6.35" ry="6.05"/><ellipse cx="1245.6" cy="271.7" rx="6.35" ry="6.05"/><ellipse cx="1249.8" cy="271.4" rx="6.35" ry="6.05"/><ellipse cx="1254.1" cy="270.1" rx="6.35" ry="6.05"/><ellipse cx="1258.4" cy="269.2" rx="6.35" ry="6.05"/><ellipse cx="1262.7" cy="268.0" rx="6.35" ry="6.05"/><ellipse cx="1267.0" cy="264.8" rx="6.35" ry="6.05"/><ellipse cx="1271.3" cy="261.5" rx="6.35" ry="6.05"/><ellipse cx="1275.6" cy="253.5" rx="6.35" ry="6.05"/><ellipse cx="1279.8" cy="243.4" rx="6.35" ry="6.05"/><ellipse cx="1284.1" cy="231.5" rx="6.35" ry="6.05"/><ellipse cx="1288.4" cy="212.3" rx="6.35" ry="6.05"/><ellipse cx="1292.7" cy="192.0" rx="6.35" ry="6.05"/><ellipse cx="1297.0" cy="166.8" rx="6.35" ry="6.05"/><ellipse cx="1301.3" cy="144.3" rx="6.35" ry="6.05"/><ellipse cx="1305.6" cy="126.7" rx="6.35" ry="6.05"/><ellipse cx="1309.8" cy="114.3" rx="6.35" ry="6.05"/><ellipse cx="1314.1" cy="113.9" rx="6.35" ry="6.05"/><ellipse cx="1318.4" cy="122.6" rx="6.35" ry="6.05"/><ellipse cx="1322.7" cy="139.7" rx="6.35" ry="6.05"/><ellipse cx="1327.0" cy="162.3" rx="6.35" ry="6.05"/><ellipse cx="1331.3" cy="187.8" rx="6.35" ry="6.05"/><ellipse cx="1335.6" cy="212.0" rx="6.35" ry="6.05"/><ellipse cx="1339.8" cy="234.0" rx="6.35" ry="6.05"/><ellipse cx="1344.1" cy="249.9" rx="6.35" ry="6.05"/><ellipse cx="1348.4" cy="261.9" rx="6.35" ry="6.05"/><ellipse cx="1352.7" cy="270.5" rx="6.35" ry="6.05"/><ellipse cx="1357.0" cy="274.4" rx="6.35" ry="6.05"/><ellipse cx="1361.3" cy="271.8" rx="6.35" ry="6.05"/><ellipse cx="1365.6" cy="266.1" rx="6.35" ry="6.05"/><ellipse cx="1369.8" cy="256.5" rx="6.35" ry="6.05"/><ellipse cx="1374.1" cy="240.8" rx="6.35" ry="6.05"/><ellipse cx="1378.4" cy="216.7" rx="6.35" ry="6.05"/><ellipse cx="1382.7" cy="186.8" rx="6.35" ry="6.05"/><ellipse cx="1387.0" cy="156.9" rx="6.35" ry="6.05"/><ellipse cx="1391.3" cy="121.1" rx="6.35" ry="6.05"/><ellipse cx="1395.6" cy="92.2" rx="6.35" ry="6.05"/><ellipse cx="1399.8" cy="71.9" rx="6.35" ry="6.05"/><ellipse cx="1404.1" cy="62.5" rx="6.35" ry="6.05"/><ellipse cx="1408.4" cy="70.8" rx="6.35" ry="6.05"/><ellipse cx="1412.7" cy="89.0" rx="6.35" ry="6.05"/><ellipse cx="1417.0" cy="117.5" rx="6.35" ry="6.05"/><ellipse cx="1421.3" cy="152.7" rx="6.35" ry="6.05"/><ellipse cx="1425.6" cy="187.8" rx="6.35" ry="6.05"/><ellipse cx="1429.8" cy="219.1" rx="6.35" ry="6.05"/><ellipse cx="1434.1" cy="243.4" rx="6.35" ry="6.05"/><ellipse cx="1438.4" cy="262.4" rx="6.35" ry="6.05"/><ellipse cx="1442.7" cy="272.7" rx="6.35" ry="6.05"/><ellipse cx="1447.0" cy="282.3" rx="6.35" ry="6.05"/><ellipse cx="1451.3" cy="287.9" rx="6.35" ry="6.05"/><ellipse cx="1455.6" cy="291.1" rx="6.35" ry="6.05"/><ellipse cx="1459.8" cy="292.6" rx="6.35" ry="6.05"/><ellipse cx="1464.1" cy="293.1" rx="6.35" ry="6.05"/><ellipse cx="1468.4" cy="294.3" rx="6.35" ry="6.05"/><ellipse cx="1472.7" cy="292.8" rx="6.35" ry="6.05"/><ellipse cx="1477.0" cy="294.8" rx="6.35" ry="6.05"/><ellipse cx="1481.3" cy="295.1" rx="6.35" ry="6.05"/><ellipse cx="1485.6" cy="294.6" rx="6.35" ry="6.05"/><ellipse cx="1489.8" cy="294.1" rx="6.35" ry="6.05"/><ellipse cx="1494.1" cy="294.4" rx="6.35" ry="6.05"/><ellipse cx="1498.4" cy="295.8" rx="6.35" ry="6.05"/><ellipse cx="1502.7" cy="295.5" rx="6.35" ry="6.05"/><ellipse cx="1507.0" cy="295.7" rx="6.35" ry="6.05"/><ellipse cx="1511.3" cy="295.6" rx="6.35" ry="6.05"/><ellipse cx="1515.6" cy="296.0" rx="6.35" ry="6.05"/><ellipse cx="1519.8" cy="296.8" rx="6.35" ry="6.05"/><ellipse cx="1524.1" cy="297.2" rx="6.35" ry="6.05"/><ellipse cx="1528.4" cy="296.4" rx="6.35" ry="6.05"/><ellipse cx="1532.7" cy="297.3" rx="6.35" ry="6.05"/><ellipse cx="1537.0" cy="295.8" rx="6.35" ry="6.05"/><ellipse cx="1541.3" cy="296.7" rx="6.35" ry="6.05"/><ellipse cx="1545.6" cy="297.5" rx="6.35" ry="6.05"/><ellipse cx="1549.8" cy="297.1" rx="6.35" ry="6.05"/><ellipse cx="1554.1" cy="297.3" rx="6.35" ry="6.05"/><ellipse cx="1558.4" cy="297.1" rx="6.35" ry="6.05"/><ellipse cx="1562.7" cy="296.5" rx="6.35" ry="6.05"/></g>
<polyline points="962.7,281.5 967.0,281.5 971.3,281.5 975.6,281.5 979.8,281.5 984.1,281.5 988.4,281.4 992.7,281.4 997.0,281.4 1001.3,281.4 1005.6,281.4 1009.8,281.4 1014.1,281.4 1018.4,281.3 1022.7,281.3 1027.0,281.3 1031.3,281.2 1035.6,281.2 1039.8,281.1 1044.1,281.0 1048.4,280.9 1052.7,280.8 1057.0,280.6 1061.3,280.4 1065.6,280.2 1069.8,279.9 1074.1,279.5 1078.4,279.1 1082.7,278.7 1087.0,278.1 1091.3,277.5 1095.6,276.8 1099.8,276.1 1104.1,275.2 1108.4,274.3 1112.7,273.4 1117.0,272.3 1121.3,271.2 1125.6,270.1 1129.8,268.9 1134.1,267.8 1138.4,266.7 1142.7,265.6 1147.0,264.6 1151.3,263.8 1155.6,263.0 1159.8,262.5 1164.1,262.1 1168.4,261.9 1172.7,261.9 1177.0,262.2 1181.3,262.6 1185.6,263.2 1189.8,264.0 1194.1,264.9 1198.4,266.0 1202.7,267.0 1207.0,268.1 1211.3,269.1 1215.6,270.1 1219.8,270.9 1224.1,271.5 1228.4,272.0 1232.7,272.3 1237.0,272.3 1241.3,272.1 1245.6,271.8 1249.8,271.2 1254.1,270.4 1258.4,269.3 1262.7,267.6 1267.0,264.9 1271.3,260.7 1275.6,254.1 1279.8,244.3 1284.1,230.5 1288.4,212.6 1292.7,191.1 1297.0,167.8 1301.3,145.1 1305.6,126.5 1309.8,115.2 1314.1,113.5 1318.4,122.0 1322.7,139.2 1327.0,162.2 1331.3,187.6 1335.6,212.1 1339.8,233.6 1344.1,250.5 1348.4,262.7 1352.7,270.2 1357.0,273.3 1361.3,272.4 1365.6,266.9 1369.8,256.3 1374.1,239.8 1378.4,216.9 1382.7,188.1 1387.0,155.2 1391.3,121.6 1395.6,91.9 1399.8,71.0 1404.1,63.0 1408.4,69.5 1412.7,89.3 1417.0,118.8 1421.3,152.9 1425.6,187.1 1429.8,217.6 1434.1,242.4 1438.4,261.0 1442.7,273.8 1447.0,282.1 1451.3,287.2 1455.6,290.2 1459.8,291.9 1464.1,292.9 1468.4,293.5 1472.7,293.9 1477.0,294.3 1481.3,294.6 1485.6,294.8 1489.8,295.1 1494.1,295.3 1498.4,295.5 1502.7,295.7 1507.0,295.8 1511.3,296.0 1515.6,296.1 1519.8,296.2 1524.1,296.4 1528.4,296.5 1532.7,296.6 1537.0,296.7 1541.3,296.8 1545.6,296.8 1549.8,296.9 1554.1,297.0 1558.4,297.0 1562.7,297.1" stroke="#000" stroke-width="3.2"/>
<polyline points="962.7,281.6 967.0,281.6 971.3,281.6 975.6,281.6 979.8,281.6 984.1,281.6 988.4,281.6 992.7,281.6 997.0,281.6 1001.3,281.6 1005.6,281.6 1009.8,281.6 1014.1,281.6 1018.4,281.6 1022.7,281.6 1027.0,281.6 1031.3,281.6 1035.6,281.6 1039.8,281.6 1044.1,281.6 1048.4,281.6 1052.7,281.6 1057.0,281.6 1061.3,281.6 1065.6,281.6 1069.8,281.6 1074.1,281.6 1078.4,281.6 1082.7,281.6 1087.0,281.6 1091.3,281.6 1095.6,281.6 1099.8,281.6 1104.1,281.6 1108.4,281.6 1112.7,281.6 1117.0,281.6 1121.3,281.7 1125.6,281.7 1129.8,281.7 1134.1,281.7 1138.4,281.8 1142.7,281.8 1147.0,281.9 1151.3,281.9 1155.6,281.9 1159.8,282.0 1164.1,282.0 1168.4,282.1 1172.7,282.1 1177.0,282.2 1181.3,282.2 1185.6,282.3 1189.8,282.3 1194.1,282.3 1198.4,282.4 1202.7,282.4 1207.0,282.4 1211.3,282.4 1215.6,282.4 1219.8,282.4 1224.1,282.4 1228.4,282.3 1232.7,282.3 1237.0,282.3 1241.3,282.2 1245.6,282.1 1249.8,281.9 1254.1,281.5 1258.4,280.8 1262.7,279.5 1267.0,277.1 1271.3,273.0 1275.6,266.3 1279.8,256.2 1284.1,242.0 1288.4,223.4 1292.7,201.1 1297.0,176.8 1301.3,153.1 1305.6,133.5 1309.8,121.1 1314.1,118.5 1318.4,126.1 1322.7,142.5 1327.0,164.9 1331.3,189.7 1335.6,213.8 1339.8,234.9 1344.1,251.5 1348.4,263.5 1352.7,270.8 1357.0,273.8 1361.3,272.8 1365.6,267.3 1369.8,256.6 1374.1,240.1 1378.4,217.1 1382.7,188.3 1387.0,155.4 1391.3,121.8 1395.6,92.1 1399.8,71.2 1404.1,63.1 1408.4,69.6 1412.7,89.5 1417.0,118.9 1421.3,153.0 1425.6,187.2 1429.8,217.7 1434.1,242.5 1438.4,261.1 1442.7,273.9 1447.0,282.2 1451.3,287.3 1455.6,290.3 1459.8,292.0 1464.1,293.0 1468.4,293.6 1472.7,294.0 1477.0,294.4 1481.3,294.7 1485.6,294.9 1489.8,295.1 1494.1,295.4 1498.4,295.6 1502.7,295.7 1507.0,295.9 1511.3,296.0 1515.6,296.2 1519.8,296.3 1524.1,296.4 1528.4,296.5 1532.7,296.6 1537.0,296.7 1541.3,296.8 1545.6,296.9 1549.8,297.0 1554.1,297.0 1558.4,297.1 1562.7,297.1" stroke="#ff0000" stroke-width="3.8"/>
<polyline points="962.7,281.7 967.0,281.7 971.3,281.7 975.6,281.7 979.8,281.7 984.1,281.7 988.4,281.7 992.7,281.7 997.0,281.7 1001.3,281.7 1005.6,281.7 1009.8,281.7 1014.1,281.7 1018.4,281.7 1022.7,281.7 1027.0,281.7 1031.3,281.7 1035.6,281.7 1039.8,281.7 1044.1,281.7 1048.4,281.7 1052.7,281.7 1057.0,281.7 1061.3,281.7 1065.6,281.7 1069.8,281.7 1074.1,281.7 1078.4,281.6 1082.7,281.6 1087.0,281.6 1091.3,281.5 1095.6,281.5 1099.8,281.4 1104.1,281.3 1108.4,281.2 1112.7,281.0 1117.0,280.8 1121.3,280.6 1125.6,280.3 1129.8,279.9 1134.1,279.6 1138.4,279.2 1142.7,278.7 1147.0,278.2 1151.3,277.7 1155.6,277.2 1159.8,276.8 1164.1,276.3 1168.4,275.9 1172.7,275.6 1177.0,275.4 1181.3,275.3 1185.6,275.2 1189.8,275.3 1194.1,275.4 1198.4,275.7 1202.7,275.9 1207.0,276.2 1211.3,276.5 1215.6,276.7 1219.8,276.8 1224.1,276.9 1228.4,276.8 1232.7,276.6 1237.0,276.2 1241.3,275.7 1245.6,275.2 1249.8,274.5 1254.1,273.9 1258.4,273.3 1262.7,272.7 1267.0,272.3 1271.3,272.1 1275.6,272.2 1279.8,272.5 1284.1,273.1 1288.4,273.9 1292.7,274.9 1297.0,276.1 1301.3,277.5 1305.6,279.0 1309.8,280.5 1314.1,282.0 1318.4,283.5 1322.7,284.8 1327.0,286.0 1331.3,286.9 1335.6,287.7 1339.8,288.4 1344.1,288.8 1348.4,289.2 1352.7,289.4 1357.0,289.6 1361.3,289.8 1365.6,289.9 1369.8,290.0 1374.1,290.1 1378.4,290.3 1382.7,290.6 1387.0,291.0 1391.3,291.4 1395.6,292.0 1399.8,292.7 1404.1,293.4 1408.4,294.2 1412.7,295.0 1417.0,295.7 1421.3,296.3 1425.6,296.8 1429.8,297.1 1434.1,297.4 1438.4,297.6 1442.7,297.7 1447.0,297.8 1451.3,297.9 1455.6,297.9 1459.8,297.9 1464.1,298.0 1468.4,298.0 1472.7,298.0 1477.0,298.0 1481.3,298.0 1485.6,298.0 1489.8,298.0 1494.1,298.1 1498.4,298.1 1502.7,298.1 1507.0,298.1 1511.3,298.1 1515.6,298.1 1519.8,298.1 1524.1,298.1 1528.4,298.1 1532.7,298.1 1537.0,298.1 1541.3,298.1 1545.6,298.2 1549.8,298.2 1554.1,298.2 1558.4,298.2 1562.7,298.2" stroke="#0080ff" stroke-width="3.8"/>
<polyline points="962.7,281.7 967.0,281.7 971.3,281.7 975.6,281.7 979.8,281.7 984.1,281.7 988.4,281.7 992.7,281.7 997.0,281.6 1001.3,281.6 1005.6,281.6 1009.8,281.6 1014.1,281.6 1018.4,281.6 1022.7,281.6 1027.0,281.5 1031.3,281.5 1035.6,281.4 1039.8,281.4 1044.1,281.3 1048.4,281.2 1052.7,281.1 1057.0,280.9 1061.3,280.7 1065.6,280.5 1069.8,280.3 1074.1,279.9 1078.4,279.6 1082.7,279.2 1087.0,278.7 1091.3,278.1 1095.6,277.5 1099.8,276.9 1104.1,276.2 1108.4,275.4 1112.7,274.6 1117.0,273.8 1121.3,273.0 1125.6,272.2 1129.8,271.5 1134.1,270.8 1138.4,270.1 1142.7,269.6 1147.0,269.2 1151.3,268.8 1155.6,268.7 1159.8,268.7 1164.1,268.8 1168.4,269.1 1172.7,269.5 1177.0,270.1 1181.3,270.8 1185.6,271.5 1189.8,272.3 1194.1,273.2 1198.4,274.1 1202.7,275.0 1207.0,275.9 1211.3,276.7 1215.6,277.6 1219.8,278.3 1224.1,279.0 1228.4,279.7 1232.7,280.3 1237.0,280.8 1241.3,281.3 1245.6,281.7 1249.8,282.1 1254.1,282.4 1258.4,282.6 1262.7,282.9 1267.0,283.1 1271.3,283.3 1275.6,283.5 1279.8,283.6 1284.1,283.8 1288.4,284.1 1292.7,284.3 1297.0,284.7 1301.3,285.1 1305.6,285.6 1309.8,286.2 1314.1,286.7 1318.4,287.3 1322.7,287.9 1327.0,288.4 1331.3,288.8 1335.6,289.2 1339.8,289.5 1344.1,289.6 1348.4,289.8 1352.7,289.9 1357.0,289.9 1361.3,290.0 1365.6,290.1 1369.8,290.1 1374.1,290.3 1378.4,290.4 1382.7,290.7 1387.0,291.0 1391.3,291.5 1395.6,292.1 1399.8,292.7 1404.1,293.5 1408.4,294.3 1412.7,295.0 1417.0,295.7 1421.3,296.3 1425.6,296.8 1429.8,297.2 1434.1,297.4 1438.4,297.6 1442.7,297.7 1447.0,297.8 1451.3,297.9 1455.6,297.9 1459.8,297.9 1464.1,298.0 1468.4,298.0 1472.7,298.0 1477.0,298.0 1481.3,298.0 1485.6,298.0 1489.8,298.1 1494.1,298.1 1498.4,298.1 1502.7,298.1 1507.0,298.1 1511.3,298.1 1515.6,298.1 1519.8,298.1 1524.1,298.1 1528.4,298.1 1532.7,298.1 1537.0,298.1 1541.3,298.2 1545.6,298.2 1549.8,298.2 1554.1,298.2 1558.4,298.2 1562.7,298.2" stroke="#ff0000" stroke-width="3.8" stroke-dasharray="3.5 3.4"/>
<polyline points="962.7,281.8 967.0,281.8 971.3,281.8 975.6,281.8 979.8,281.8 984.1,281.8 988.4,281.8 992.7,281.8 997.0,281.8 1001.3,281.8 1005.6,281.8 1009.8,281.8 1014.1,281.8 1018.4,281.8 1022.7,281.8 1027.0,281.8 1031.3,281.8 1035.6,281.8 1039.8,281.8 1044.1,281.8 1048.4,281.8 1052.7,281.8 1057.0,281.8 1061.3,281.8 1065.6,281.8 1069.8,281.8 1074.1,281.8 1078.4,281.8 1082.7,281.8 1087.0,281.8 1091.3,281.9 1095.6,281.9 1099.8,281.9 1104.1,281.9 1108.4,281.9 1112.7,282.0 1117.0,282.0 1121.3,282.0 1125.6,282.1 1129.8,282.1 1134.1,282.1 1138.4,282.2 1142.7,282.2 1147.0,282.3 1151.3,282.4 1155.6,282.4 1159.8,282.5 1164.1,282.5 1168.4,282.6 1172.7,282.7 1177.0,282.8 1181.3,282.8 1185.6,282.9 1189.8,283.0 1194.1,283.0 1198.4,283.1 1202.7,283.1 1207.0,283.2 1211.3,283.2 1215.6,283.3 1219.8,283.3 1224.1,283.4 1228.4,283.4 1232.7,283.5 1237.0,283.5 1241.3,283.5 1245.6,283.6 1249.8,283.6 1254.1,283.7 1258.4,283.7 1262.7,283.7 1267.0,283.8 1271.3,283.9 1275.6,283.9 1279.8,284.0 1284.1,284.2 1288.4,284.4 1292.7,284.6 1297.0,284.9 1301.3,285.3 1305.6,285.8 1309.8,286.3 1314.1,286.9 1318.4,287.5 1322.7,288.0 1327.0,288.5 1331.3,288.9 1335.6,289.3 1339.8,289.5 1344.1,289.7 1348.4,289.9 1352.7,290.0 1357.0,290.0 1361.3,290.1 1365.6,290.1 1369.8,290.2 1374.1,290.3 1378.4,290.5 1382.7,290.8 1387.0,291.1 1391.3,291.6 1395.6,292.1 1399.8,292.8 1404.1,293.5 1408.4,294.3 1412.7,295.1 1417.0,295.8 1421.3,296.4 1425.6,296.8 1429.8,297.2 1434.1,297.5 1438.4,297.7 1442.7,297.8 1447.0,297.9 1451.3,297.9 1455.6,298.0 1459.8,298.0 1464.1,298.0 1468.4,298.0 1472.7,298.0 1477.0,298.1 1481.3,298.1 1485.6,298.1 1489.8,298.1 1494.1,298.1 1498.4,298.1 1502.7,298.1 1507.0,298.1 1511.3,298.1 1515.6,298.1 1519.8,298.1 1524.1,298.2 1528.4,298.2 1532.7,298.2 1537.0,298.2 1541.3,298.2 1545.6,298.2 1549.8,298.2 1554.1,298.2 1558.4,298.2 1562.7,298.2" stroke="#000" stroke-width="3.8" stroke-dasharray="19.2 5.9" stroke-dashoffset="9.9"/>
<g stroke="#000"><line x1="121.8" y1="302.4" x2="706.7" y2="302.4" stroke-width="3.2"/><line x1="962.7" y1="301.2" x2="1562.7" y2="301.2" stroke-width="3.4"/></g>
<g fill="#fff" stroke="#000" stroke-width="1.7"><ellipse cx="121.8" cy="563.3" rx="6.2" ry="5.9"/><ellipse cx="124.7" cy="564.9" rx="6.2" ry="5.9"/><ellipse cx="127.6" cy="564.8" rx="6.2" ry="5.9"/><ellipse cx="130.6" cy="564.2" rx="6.2" ry="5.9"/><ellipse cx="133.5" cy="563.4" rx="6.2" ry="5.9"/><ellipse cx="136.4" cy="563.7" rx="6.2" ry="5.9"/><ellipse cx="139.3" cy="563.4" rx="6.2" ry="5.9"/><ellipse cx="142.3" cy="564.2" rx="6.2" ry="5.9"/><ellipse cx="145.2" cy="564.0" rx="6.2" ry="5.9"/><ellipse cx="148.1" cy="564.7" rx="6.2" ry="5.9"/><ellipse cx="151.0" cy="564.1" rx="6.2" ry="5.9"/><ellipse cx="154.0" cy="563.5" rx="6.2" ry="5.9"/><ellipse cx="156.9" cy="564.1" rx="6.2" ry="5.9"/><ellipse cx="159.8" cy="563.5" rx="6.2" ry="5.9"/><ellipse cx="162.7" cy="564.2" rx="6.2" ry="5.9"/><ellipse cx="165.7" cy="564.2" rx="6.2" ry="5.9"/><ellipse cx="168.6" cy="563.8" rx="6.2" ry="5.9"/><ellipse cx="171.5" cy="563.9" rx="6.2" ry="5.9"/><ellipse cx="174.4" cy="563.4" rx="6.2" ry="5.9"/><ellipse cx="177.4" cy="563.7" rx="6.2" ry="5.9"/><ellipse cx="180.3" cy="562.6" rx="6.2" ry="5.9"/><ellipse cx="183.2" cy="563.9" rx="6.2" ry="5.9"/><ellipse cx="186.1" cy="563.9" rx="6.2" ry="5.9"/><ellipse cx="189.1" cy="564.4" rx="6.2" ry="5.9"/><ellipse cx="192.0" cy="563.7" rx="6.2" ry="5.9"/><ellipse cx="194.9" cy="563.2" rx="6.2" ry="5.9"/><ellipse cx="197.8" cy="564.2" rx="6.2" ry="5.9"/><ellipse cx="200.8" cy="563.7" rx="6.2" ry="5.9"/><ellipse cx="203.7" cy="563.1" rx="6.2" ry="5.9"/><ellipse cx="206.6" cy="563.7" rx="6.2" ry="5.9"/><ellipse cx="209.5" cy="563.9" rx="6.2" ry="5.9"/><ellipse cx="212.5" cy="562.8" rx="6.2" ry="5.9"/><ellipse cx="215.4" cy="563.4" rx="6.2" ry="5.9"/><ellipse cx="218.3" cy="563.2" rx="6.2" ry="5.9"/><ellipse cx="221.2" cy="562.6" rx="6.2" ry="5.9"/><ellipse cx="224.2" cy="562.5" rx="6.2" ry="5.9"/><ellipse cx="227.1" cy="563.5" rx="6.2" ry="5.9"/><ellipse cx="230.0" cy="563.5" rx="6.2" ry="5.9"/><ellipse cx="232.9" cy="562.9" rx="6.2" ry="5.9"/><ellipse cx="235.9" cy="563.0" rx="6.2" ry="5.9"/><ellipse cx="238.8" cy="564.0" rx="6.2" ry="5.9"/><ellipse cx="241.7" cy="561.5" rx="6.2" ry="5.9"/><ellipse cx="244.6" cy="561.9" rx="6.2" ry="5.9"/><ellipse cx="247.6" cy="560.7" rx="6.2" ry="5.9"/><ellipse cx="250.5" cy="561.2" rx="6.2" ry="5.9"/><ellipse cx="253.4" cy="558.3" rx="6.2" ry="5.9"/><ellipse cx="256.3" cy="558.3" rx="6.2" ry="5.9"/><ellipse cx="259.3" cy="556.5" rx="6.2" ry="5.9"/><ellipse cx="262.2" cy="556.0" rx="6.2" ry="5.9"/><ellipse cx="265.1" cy="553.7" rx="6.2" ry="5.9"/><ellipse cx="268.0" cy="552.6" rx="6.2" ry="5.9"/><ellipse cx="270.9" cy="551.4" rx="6.2" ry="5.9"/><ellipse cx="273.9" cy="549.6" rx="6.2" ry="5.9"/><ellipse cx="276.8" cy="547.7" rx="6.2" ry="5.9"/><ellipse cx="279.7" cy="543.4" rx="6.2" ry="5.9"/><ellipse cx="282.6" cy="538.7" rx="6.2" ry="5.9"/><ellipse cx="285.6" cy="530.6" rx="6.2" ry="5.9"/><ellipse cx="288.5" cy="518.6" rx="6.2" ry="5.9"/><ellipse cx="291.4" cy="504.4" rx="6.2" ry="5.9"/><ellipse cx="294.3" cy="489.0" rx="6.2" ry="5.9"/><ellipse cx="297.3" cy="475.1" rx="6.2" ry="5.9"/><ellipse cx="300.2" cy="465.9" rx="6.2" ry="5.9"/><ellipse cx="303.1" cy="457.3" rx="6.2" ry="5.9"/><ellipse cx="306.0" cy="455.5" rx="6.2" ry="5.9"/><ellipse cx="309.0" cy="460.9" rx="6.2" ry="5.9"/><ellipse cx="311.9" cy="468.5" rx="6.2" ry="5.9"/><ellipse cx="314.8" cy="474.7" rx="6.2" ry="5.9"/><ellipse cx="317.7" cy="479.0" rx="6.2" ry="5.9"/><ellipse cx="320.7" cy="476.0" rx="6.2" ry="5.9"/><ellipse cx="323.6" cy="468.0" rx="6.2" ry="5.9"/><ellipse cx="326.5" cy="452.2" rx="6.2" ry="5.9"/><ellipse cx="329.4" cy="434.5" rx="6.2" ry="5.9"/><ellipse cx="332.4" cy="416.9" rx="6.2" ry="5.9"/><ellipse cx="335.3" cy="400.9" rx="6.2" ry="5.9"/><ellipse cx="338.2" cy="393.9" rx="6.2" ry="5.9"/><ellipse cx="341.1" cy="399.2" rx="6.2" ry="5.9"/><ellipse cx="344.1" cy="413.1" rx="6.2" ry="5.9"/><ellipse cx="347.0" cy="436.4" rx="6.2" ry="5.9"/><ellipse cx="349.9" cy="458.9" rx="6.2" ry="5.9"/><ellipse cx="352.8" cy="485.9" rx="6.2" ry="5.9"/><ellipse cx="355.8" cy="510.5" rx="6.2" ry="5.9"/><ellipse cx="358.7" cy="529.5" rx="6.2" ry="5.9"/><ellipse cx="361.6" cy="543.0" rx="6.2" ry="5.9"/><ellipse cx="364.5" cy="552.8" rx="6.2" ry="5.9"/><ellipse cx="367.5" cy="560.5" rx="6.2" ry="5.9"/><ellipse cx="370.4" cy="564.6" rx="6.2" ry="5.9"/><ellipse cx="373.3" cy="568.4" rx="6.2" ry="5.9"/><ellipse cx="376.2" cy="570.2" rx="6.2" ry="5.9"/><ellipse cx="379.2" cy="569.6" rx="6.2" ry="5.9"/><ellipse cx="382.1" cy="570.5" rx="6.2" ry="5.9"/><ellipse cx="385.0" cy="571.3" rx="6.2" ry="5.9"/><ellipse cx="387.9" cy="570.6" rx="6.2" ry="5.9"/><ellipse cx="390.9" cy="572.4" rx="6.2" ry="5.9"/><ellipse cx="393.8" cy="572.3" rx="6.2" ry="5.9"/><ellipse cx="396.7" cy="571.5" rx="6.2" ry="5.9"/><ellipse cx="399.6" cy="571.0" rx="6.2" ry="5.9"/><ellipse cx="402.6" cy="572.4" rx="6.2" ry="5.9"/><ellipse cx="405.5" cy="571.4" rx="6.2" ry="5.9"/><ellipse cx="408.4" cy="573.1" rx="6.2" ry="5.9"/><ellipse cx="411.3" cy="572.5" rx="6.2" ry="5.9"/><ellipse cx="414.3" cy="573.0" rx="6.2" ry="5.9"/><ellipse cx="417.2" cy="574.0" rx="6.2" ry="5.9"/><ellipse cx="420.1" cy="572.8" rx="6.2" ry="5.9"/><ellipse cx="423.0" cy="572.4" rx="6.2" ry="5.9"/><ellipse cx="425.9" cy="573.2" rx="6.2" ry="5.9"/><ellipse cx="428.9" cy="573.2" rx="6.2" ry="5.9"/><ellipse cx="431.8" cy="572.2" rx="6.2" ry="5.9"/><ellipse cx="434.7" cy="574.1" rx="6.2" ry="5.9"/><ellipse cx="437.6" cy="574.3" rx="6.2" ry="5.9"/><ellipse cx="440.6" cy="573.7" rx="6.2" ry="5.9"/><ellipse cx="443.5" cy="574.1" rx="6.2" ry="5.9"/><ellipse cx="446.4" cy="572.4" rx="6.2" ry="5.9"/><ellipse cx="449.3" cy="573.2" rx="6.2" ry="5.9"/><ellipse cx="452.3" cy="574.0" rx="6.2" ry="5.9"/><ellipse cx="455.2" cy="573.8" rx="6.2" ry="5.9"/><ellipse cx="458.1" cy="571.4" rx="6.2" ry="5.9"/><ellipse cx="461.0" cy="573.8" rx="6.2" ry="5.9"/><ellipse cx="464.0" cy="573.8" rx="6.2" ry="5.9"/><ellipse cx="466.9" cy="573.1" rx="6.2" ry="5.9"/><ellipse cx="469.8" cy="572.8" rx="6.2" ry="5.9"/><ellipse cx="472.7" cy="572.9" rx="6.2" ry="5.9"/><ellipse cx="475.7" cy="573.6" rx="6.2" ry="5.9"/><ellipse cx="478.6" cy="573.6" rx="6.2" ry="5.9"/><ellipse cx="481.5" cy="572.2" rx="6.2" ry="5.9"/><ellipse cx="484.4" cy="572.4" rx="6.2" ry="5.9"/><ellipse cx="487.4" cy="573.1" rx="6.2" ry="5.9"/><ellipse cx="490.3" cy="570.8" rx="6.2" ry="5.9"/><ellipse cx="493.2" cy="570.6" rx="6.2" ry="5.9"/><ellipse cx="496.1" cy="570.8" rx="6.2" ry="5.9"/><ellipse cx="499.1" cy="570.1" rx="6.2" ry="5.9"/><ellipse cx="502.0" cy="569.0" rx="6.2" ry="5.9"/><ellipse cx="504.9" cy="568.9" rx="6.2" ry="5.9"/><ellipse cx="507.8" cy="568.4" rx="6.2" ry="5.9"/><ellipse cx="510.8" cy="566.1" rx="6.2" ry="5.9"/><ellipse cx="513.7" cy="566.3" rx="6.2" ry="5.9"/><ellipse cx="516.6" cy="563.7" rx="6.2" ry="5.9"/><ellipse cx="519.5" cy="563.7" rx="6.2" ry="5.9"/><ellipse cx="522.5" cy="561.3" rx="6.2" ry="5.9"/><ellipse cx="525.4" cy="559.9" rx="6.2" ry="5.9"/><ellipse cx="528.3" cy="556.9" rx="6.2" ry="5.9"/><ellipse cx="531.2" cy="557.5" rx="6.2" ry="5.9"/><ellipse cx="534.2" cy="556.3" rx="6.2" ry="5.9"/><ellipse cx="537.1" cy="554.3" rx="6.2" ry="5.9"/><ellipse cx="540.0" cy="553.3" rx="6.2" ry="5.9"/><ellipse cx="542.9" cy="551.6" rx="6.2" ry="5.9"/><ellipse cx="545.9" cy="549.7" rx="6.2" ry="5.9"/><ellipse cx="548.8" cy="548.5" rx="6.2" ry="5.9"/><ellipse cx="551.7" cy="547.1" rx="6.2" ry="5.9"/><ellipse cx="554.6" cy="548.3" rx="6.2" ry="5.9"/><ellipse cx="557.6" cy="545.4" rx="6.2" ry="5.9"/><ellipse cx="560.5" cy="545.8" rx="6.2" ry="5.9"/><ellipse cx="563.4" cy="547.6" rx="6.2" ry="5.9"/><ellipse cx="566.3" cy="549.6" rx="6.2" ry="5.9"/><ellipse cx="569.2" cy="548.4" rx="6.2" ry="5.9"/><ellipse cx="572.2" cy="549.1" rx="6.2" ry="5.9"/><ellipse cx="575.1" cy="551.9" rx="6.2" ry="5.9"/><ellipse cx="578.0" cy="551.2" rx="6.2" ry="5.9"/><ellipse cx="580.9" cy="552.7" rx="6.2" ry="5.9"/><ellipse cx="583.9" cy="554.5" rx="6.2" ry="5.9"/><ellipse cx="586.8" cy="554.9" rx="6.2" ry="5.9"/><ellipse cx="589.7" cy="556.2" rx="6.2" ry="5.9"/><ellipse cx="592.6" cy="558.8" rx="6.2" ry="5.9"/><ellipse cx="595.6" cy="559.8" rx="6.2" ry="5.9"/><ellipse cx="598.5" cy="561.9" rx="6.2" ry="5.9"/><ellipse cx="601.4" cy="563.4" rx="6.2" ry="5.9"/><ellipse cx="604.3" cy="564.1" rx="6.2" ry="5.9"/><ellipse cx="607.3" cy="565.1" rx="6.2" ry="5.9"/><ellipse cx="610.2" cy="567.0" rx="6.2" ry="5.9"/><ellipse cx="613.1" cy="569.3" rx="6.2" ry="5.9"/><ellipse cx="616.0" cy="568.2" rx="6.2" ry="5.9"/><ellipse cx="619.0" cy="570.6" rx="6.2" ry="5.9"/><ellipse cx="621.9" cy="570.2" rx="6.2" ry="5.9"/><ellipse cx="624.8" cy="569.7" rx="6.2" ry="5.9"/><ellipse cx="627.7" cy="571.5" rx="6.2" ry="5.9"/><ellipse cx="630.7" cy="572.8" rx="6.2" ry="5.9"/><ellipse cx="633.6" cy="573.4" rx="6.2" ry="5.9"/><ellipse cx="636.5" cy="571.9" rx="6.2" ry="5.9"/><ellipse cx="639.4" cy="573.0" rx="6.2" ry="5.9"/><ellipse cx="642.4" cy="572.8" rx="6.2" ry="5.9"/><ellipse cx="645.3" cy="572.8" rx="6.2" ry="5.9"/><ellipse cx="648.2" cy="573.6" rx="6.2" ry="5.9"/><ellipse cx="651.1" cy="573.9" rx="6.2" ry="5.9"/><ellipse cx="654.1" cy="574.4" rx="6.2" ry="5.9"/><ellipse cx="657.0" cy="575.9" rx="6.2" ry="5.9"/><ellipse cx="659.9" cy="574.9" rx="6.2" ry="5.9"/><ellipse cx="662.8" cy="574.0" rx="6.2" ry="5.9"/><ellipse cx="665.8" cy="574.1" rx="6.2" ry="5.9"/><ellipse cx="668.7" cy="573.7" rx="6.2" ry="5.9"/><ellipse cx="671.6" cy="574.1" rx="6.2" ry="5.9"/><ellipse cx="674.5" cy="573.9" rx="6.2" ry="5.9"/><ellipse cx="677.5" cy="573.5" rx="6.2" ry="5.9"/><ellipse cx="680.4" cy="574.6" rx="6.2" ry="5.9"/><ellipse cx="683.3" cy="574.2" rx="6.2" ry="5.9"/><ellipse cx="686.2" cy="575.1" rx="6.2" ry="5.9"/><ellipse cx="689.2" cy="573.4" rx="6.2" ry="5.9"/><ellipse cx="692.1" cy="574.0" rx="6.2" ry="5.9"/><ellipse cx="695.0" cy="573.7" rx="6.2" ry="5.9"/><ellipse cx="697.9" cy="573.0" rx="6.2" ry="5.9"/><ellipse cx="700.9" cy="573.3" rx="6.2" ry="5.9"/><ellipse cx="703.8" cy="574.1" rx="6.2" ry="5.9"/><ellipse cx="706.7" cy="573.5" rx="6.2" ry="5.9"/></g>
<polyline points="121.8,564.0 124.7,563.9 127.6,563.9 130.6,563.9 133.5,563.9 136.4,563.9 139.3,563.9 142.3,563.9 145.2,563.9 148.1,563.9 151.0,563.9 154.0,563.9 156.9,563.9 159.8,563.9 162.7,563.8 165.7,563.8 168.6,563.8 171.5,563.8 174.4,563.8 177.4,563.8 180.3,563.8 183.2,563.8 186.1,563.7 189.1,563.7 192.0,563.7 194.9,563.7 197.8,563.7 200.8,563.6 203.7,563.6 206.6,563.6 209.5,563.5 212.5,563.5 215.4,563.5 218.3,563.4 221.2,563.4 224.2,563.3 227.1,563.3 230.0,563.2 232.9,563.1 235.9,562.9 238.8,562.7 241.7,562.4 244.6,561.9 247.6,561.2 250.5,560.3 253.4,559.2 256.3,557.9 259.3,556.4 262.2,555.0 265.1,553.6 268.0,552.4 270.9,551.3 273.9,549.9 276.8,547.8 279.7,544.2 282.6,538.4 285.6,529.9 288.5,518.6 291.4,504.9 294.3,490.1 297.3,475.8 300.2,464.4 303.1,457.6 306.0,456.7 309.0,461.0 311.9,468.1 314.8,475.0 317.7,478.6 320.7,476.6 323.6,468.0 326.5,453.4 329.4,434.9 332.4,416.2 335.3,401.5 338.2,394.8 341.1,398.7 344.1,412.7 347.0,434.3 349.9,459.7 352.8,485.4 355.8,508.7 358.7,528.1 361.6,542.9 364.5,553.4 367.5,560.5 370.4,564.9 373.3,567.6 376.2,569.2 379.2,570.2 382.1,570.8 385.0,571.2 387.9,571.5 390.9,571.8 393.8,572.0 396.7,572.2 399.6,572.3 402.6,572.4 405.5,572.6 408.4,572.7 411.3,572.8 414.3,572.8 417.2,572.9 420.1,573.0 423.0,573.0 425.9,573.1 428.9,573.1 431.8,573.2 434.7,573.2 437.6,573.3 440.6,573.3 443.5,573.3 446.4,573.4 449.3,573.4 452.3,573.4 455.2,573.4 458.1,573.4 461.0,573.4 464.0,573.3 466.9,573.3 469.8,573.2 472.7,573.1 475.7,573.0 478.6,572.8 481.5,572.6 484.4,572.3 487.4,572.0 490.3,571.6 493.2,571.1 496.1,570.6 499.1,569.9 502.0,569.2 504.9,568.4 507.8,567.4 510.8,566.4 513.7,565.2 516.6,564.0 519.5,562.6 522.5,561.2 525.4,559.8 528.3,558.3 531.2,556.8 534.2,555.3 537.1,553.8 540.0,552.5 542.9,551.2 545.9,550.1 548.8,549.1 551.7,548.3 554.6,547.8 557.6,547.4 560.5,547.3 563.4,547.4 566.3,547.8 569.2,548.4 572.2,549.2 575.1,550.1 578.0,551.3 580.9,552.6 583.9,553.9 586.8,555.4 589.7,556.9 592.6,558.4 595.6,559.9 598.5,561.4 601.4,562.8 604.3,564.2 607.3,565.5 610.2,566.6 613.1,567.7 616.0,568.6 619.0,569.5 621.9,570.3 624.8,570.9 627.7,571.5 630.7,572.0 633.6,572.4 636.5,572.7 639.4,573.0 642.4,573.2 645.3,573.4 648.2,573.5 651.1,573.7 654.1,573.7 657.0,573.8 659.9,573.9 662.8,573.9 665.8,574.0 668.7,574.0 671.6,574.0 674.5,574.0 677.5,574.0 680.4,574.0 683.3,574.0 686.2,574.0 689.2,574.0 692.1,574.0 695.0,574.0 697.9,574.0 700.9,574.1 703.8,574.1 706.7,574.1" stroke="#000" stroke-width="3.2"/>
<polyline points="121.8,564.1 124.7,564.1 127.6,564.1 130.6,564.1 133.5,564.1 136.4,564.1 139.3,564.1 142.3,564.1 145.2,564.1 148.1,564.1 151.0,564.1 154.0,564.1 156.9,564.1 159.8,564.1 162.7,564.1 165.7,564.1 168.6,564.1 171.5,564.1 174.4,564.1 177.4,564.1 180.3,564.1 183.2,564.1 186.1,564.1 189.1,564.1 192.0,564.1 194.9,564.1 197.8,564.1 200.8,564.1 203.7,564.1 206.6,564.1 209.5,564.1 212.5,564.1 215.4,564.1 218.3,564.1 221.2,564.1 224.2,564.1 227.1,564.0 230.0,564.0 232.9,564.0 235.9,563.9 238.8,563.7 241.7,563.5 244.6,563.1 247.6,562.5 250.5,561.7 253.4,560.7 256.3,559.6 259.3,558.3 262.2,557.1 265.1,556.2 268.0,555.6 270.9,555.5 273.9,555.8 276.8,556.3 279.7,556.8 282.6,557.0 285.6,556.7 288.5,555.9 291.4,554.5 294.3,552.9 297.3,551.2 300.2,550.0 303.1,549.4 306.0,549.9 309.0,551.3 311.9,553.5 314.8,556.1 317.7,558.8 320.7,561.4 323.6,563.6 326.5,565.5 329.4,566.9 332.4,568.1 335.3,569.1 338.2,569.9 341.1,570.7 344.1,571.3 347.0,571.9 349.9,572.4 352.8,572.8 355.8,573.1 358.7,573.3 361.6,573.5 364.5,573.6 367.5,573.6 370.4,573.7 373.3,573.7 376.2,573.7 379.2,573.8 382.1,573.8 385.0,573.8 387.9,573.8 390.9,573.8 393.8,573.8 396.7,573.8 399.6,573.8 402.6,573.9 405.5,573.9 408.4,573.9 411.3,573.9 414.3,573.9 417.2,573.9 420.1,573.9 423.0,573.9 425.9,573.9 428.9,573.9 431.8,573.9 434.7,573.9 437.6,573.9 440.6,573.9 443.5,573.9 446.4,573.9 449.3,573.9 452.3,573.9 455.2,573.9 458.1,573.9 461.0,573.9 464.0,573.9 466.9,573.9 469.8,573.9 472.7,573.9 475.7,573.9 478.6,573.9 481.5,573.9 484.4,573.9 487.4,573.9 490.3,574.0 493.2,574.0 496.1,574.0 499.1,574.0 502.0,574.0 504.9,574.0 507.8,574.0 510.8,574.0 513.7,574.0 516.6,574.0 519.5,574.0 522.5,574.0 525.4,574.0 528.3,574.0 531.2,574.0 534.2,574.0 537.1,574.0 540.0,574.0 542.9,574.0 545.9,574.0 548.8,574.0 551.7,574.0 554.6,574.0 557.6,574.0 560.5,574.0 563.4,574.0 566.3,574.0 569.2,574.0 572.2,574.0 575.1,574.1 578.0,574.1 580.9,574.1 583.9,574.1 586.8,574.1 589.7,574.1 592.6,574.1 595.6,574.1 598.5,574.1 601.4,574.1 604.3,574.1 607.3,574.1 610.2,574.1 613.1,574.1 616.0,574.1 619.0,574.1 621.9,574.1 624.8,574.1 627.7,574.1 630.7,574.1 633.6,574.1 636.5,574.1 639.4,574.1 642.4,574.1 645.3,574.1 648.2,574.1 651.1,574.1 654.1,574.1 657.0,574.1 659.9,574.1 662.8,574.1 665.8,574.1 668.7,574.1 671.6,574.1 674.5,574.1 677.5,574.1 680.4,574.1 683.3,574.1 686.2,574.1 689.2,574.1 692.1,574.1 695.0,574.1 697.9,574.1 700.9,574.1 703.8,574.1 706.7,574.1" stroke="#0080ff" stroke-width="3.8"/>
<polyline points="121.8,564.1 124.7,564.1 127.6,564.1 130.6,564.1 133.5,564.1 136.4,564.1 139.3,564.1 142.3,564.1 145.2,564.2 148.1,564.2 151.0,564.2 154.0,564.2 156.9,564.2 159.8,564.2 162.7,564.2 165.7,564.2 168.6,564.2 171.5,564.2 174.4,564.2 177.4,564.2 180.3,564.2 183.2,564.2 186.1,564.2 189.1,564.2 192.0,564.2 194.9,564.2 197.8,564.2 200.8,564.2 203.7,564.2 206.6,564.2 209.5,564.2 212.5,564.2 215.4,564.2 218.3,564.2 221.2,564.2 224.2,564.2 227.1,564.2 230.0,564.2 232.9,564.2 235.9,564.2 238.8,564.2 241.7,564.2 244.6,564.2 247.6,564.2 250.5,564.2 253.4,564.2 256.3,564.3 259.3,564.3 262.2,564.3 265.1,564.3 268.0,564.4 270.9,564.4 273.9,564.5 276.8,564.5 279.7,564.6 282.6,564.6 285.6,564.7 288.5,564.8 291.4,565.0 294.3,565.2 297.3,565.4 300.2,565.7 303.1,566.0 306.0,566.4 309.0,566.7 311.9,567.1 314.8,567.4 317.7,567.7 320.7,568.0 323.6,568.3 326.5,568.6 329.4,569.0 332.4,569.4 335.3,569.9 338.2,570.5 341.1,571.0 344.1,571.6 347.0,572.1 349.9,572.6 352.8,572.9 355.8,573.2 358.7,573.4 361.6,573.6 364.5,573.7 367.5,573.7 370.4,573.8 373.3,573.8 376.2,573.8 379.2,573.8 382.1,573.8 385.0,573.9 387.9,573.9 390.9,573.9 393.8,573.9 396.7,573.9 399.6,573.9 402.6,573.9 405.5,573.9 408.4,573.9 411.3,573.9 414.3,573.9 417.2,573.9 420.1,573.9 423.0,573.9 425.9,573.9 428.9,573.9 431.8,573.9 434.7,573.9 437.6,573.9 440.6,573.9 443.5,573.9 446.4,573.9 449.3,573.9 452.3,573.9 455.2,573.9 458.1,573.8 461.0,573.8 464.0,573.7 466.9,573.7 469.8,573.6 472.7,573.5 475.7,573.3 478.6,573.1 481.5,572.9 484.4,572.6 487.4,572.3 490.3,571.9 493.2,571.4 496.1,570.9 499.1,570.2 502.0,569.5 504.9,568.6 507.8,567.7 510.8,566.6 513.7,565.4 516.6,564.2 519.5,562.8 522.5,561.4 525.4,560.0 528.3,558.5 531.2,556.9 534.2,555.4 537.1,554.0 540.0,552.6 542.9,551.4 545.9,550.2 548.8,549.3 551.7,548.5 554.6,547.9 557.6,547.6 560.5,547.5 563.4,547.6 566.3,547.9 569.2,548.5 572.2,549.3 575.1,550.3 578.0,551.4 580.9,552.7 583.9,554.1 586.8,555.5 589.7,557.0 592.6,558.5 595.6,560.1 598.5,561.5 601.4,563.0 604.3,564.3 607.3,565.6 610.2,566.7 613.1,567.8 616.0,568.7 619.0,569.6 621.9,570.3 624.8,571.0 627.7,571.6 630.7,572.0 633.6,572.4 636.5,572.8 639.4,573.1 642.4,573.3 645.3,573.5 648.2,573.6 651.1,573.7 654.1,573.8 657.0,573.9 659.9,573.9 662.8,574.0 665.8,574.0 668.7,574.0 671.6,574.1 674.5,574.1 677.5,574.1 680.4,574.1 683.3,574.1 686.2,574.1 689.2,574.1 692.1,574.1 695.0,574.1 697.9,574.1 700.9,574.1 703.8,574.1 706.7,574.1" stroke="#0080ff" stroke-width="3.8"/>
<polyline points="121.8,564.0 124.7,564.0 127.6,564.0 130.6,564.0 133.5,563.9 136.4,563.9 139.3,563.9 142.3,563.9 145.2,563.9 148.1,563.9 151.0,563.9 154.0,563.9 156.9,563.9 159.8,563.9 162.7,563.9 165.7,563.9 168.6,563.9 171.5,563.8 174.4,563.8 177.4,563.8 180.3,563.8 183.2,563.8 186.1,563.8 189.1,563.8 192.0,563.7 194.9,563.7 197.8,563.7 200.8,563.7 203.7,563.7 206.6,563.6 209.5,563.6 212.5,563.6 215.4,563.6 218.3,563.5 221.2,563.5 224.2,563.4 227.1,563.4 230.0,563.4 232.9,563.3 235.9,563.2 238.8,563.2 241.7,563.1 244.6,563.0 247.6,562.9 250.5,562.8 253.4,562.7 256.3,562.6 259.3,562.4 262.2,562.1 265.1,561.8 268.0,561.2 270.9,560.2 273.9,558.6 276.8,556.0 279.7,552.0 282.6,546.0 285.6,537.9 288.5,527.5 291.4,515.3 294.3,502.3 297.3,490.0 300.2,480.1 303.1,474.2 306.0,473.3 309.0,476.5 311.9,481.7 314.8,486.3 317.7,487.4 320.7,483.2 323.6,472.7 326.5,456.5 329.4,437.0 332.4,417.5 335.3,402.3 338.2,395.3 341.1,399.0 344.1,413.0 347.0,434.5 349.9,459.9 352.8,485.6 355.8,508.9 358.7,528.2 361.6,543.0 364.5,553.5 367.5,560.5 370.4,565.0 373.3,567.7 376.2,569.3 379.2,570.3 382.1,570.9 385.0,571.3 387.9,571.6 390.9,571.8 393.8,572.0 396.7,572.2 399.6,572.4 402.6,572.5 405.5,572.6 408.4,572.7 411.3,572.8 414.3,572.9 417.2,572.9 420.1,573.0 423.0,573.1 425.9,573.1 428.9,573.2 431.8,573.2 434.7,573.3 437.6,573.3 440.6,573.3 443.5,573.4 446.4,573.4 449.3,573.4 452.3,573.5 455.2,573.5 458.1,573.5 461.0,573.5 464.0,573.5 466.9,573.6 469.8,573.6 472.7,573.6 475.7,573.6 478.6,573.6 481.5,573.6 484.4,573.7 487.4,573.7 490.3,573.7 493.2,573.7 496.1,573.7 499.1,573.7 502.0,573.7 504.9,573.7 507.8,573.7 510.8,573.8 513.7,573.8 516.6,573.8 519.5,573.8 522.5,573.8 525.4,573.8 528.3,573.8 531.2,573.8 534.2,573.8 537.1,573.8 540.0,573.8 542.9,573.8 545.9,573.9 548.8,573.9 551.7,573.9 554.6,573.9 557.6,573.9 560.5,573.9 563.4,573.9 566.3,573.9 569.2,573.9 572.2,573.9 575.1,573.9 578.0,573.9 580.9,573.9 583.9,574.0 586.8,574.0 589.7,574.0 592.6,574.0 595.6,574.0 598.5,574.0 601.4,574.0 604.3,574.0 607.3,574.0 610.2,574.0 613.1,574.0 616.0,574.0 619.0,574.0 621.9,574.0 624.8,574.0 627.7,574.0 630.7,574.0 633.6,574.0 636.5,574.0 639.4,574.0 642.4,574.0 645.3,574.0 648.2,574.0 651.1,574.0 654.1,574.0 657.0,574.0 659.9,574.0 662.8,574.0 665.8,574.0 668.7,574.0 671.6,574.0 674.5,574.0 677.5,574.0 680.4,574.0 683.3,574.0 686.2,574.0 689.2,574.1 692.1,574.1 695.0,574.1 697.9,574.1 700.9,574.1 703.8,574.1 706.7,574.1" stroke="#ff0000" stroke-width="3.8"/>
<polyline points="121.8,564.1 124.7,564.1 127.6,564.1 130.6,564.1 133.5,564.1 136.4,564.1 139.3,564.1 142.3,564.1 145.2,564.2 148.1,564.2 151.0,564.2 154.0,564.2 156.9,564.2 159.8,564.2 162.7,564.2 165.7,564.2 168.6,564.2 171.5,564.2 174.4,564.2 177.4,564.2 180.3,564.2 183.2,564.2 186.1,564.2 189.1,564.2 192.0,564.2 194.9,564.2 197.8,564.2 200.8,564.2 203.7,564.2 206.6,564.2 209.5,564.2 212.5,564.2 215.4,564.2 218.3,564.2 221.2,564.2 224.2,564.2 227.1,564.2 230.0,564.2 232.9,564.2 235.9,564.2 238.8,564.2 241.7,564.2 244.6,564.2 247.6,564.2 250.5,564.2 253.4,564.2 256.3,564.3 259.3,564.3 262.2,564.3 265.1,564.3 268.0,564.4 270.9,564.4 273.9,564.5 276.8,564.5 279.7,564.6 282.6,564.6 285.6,564.7 288.5,564.8 291.4,565.0 294.3,565.2 297.3,565.4 300.2,565.7 303.1,566.0 306.0,566.4 309.0,566.7 311.9,567.1 314.8,567.4 317.7,567.7 320.7,568.0 323.6,568.3 326.5,568.6 329.4,569.0 332.4,569.4 335.3,569.9 338.2,570.5 341.1,571.0 344.1,571.6 347.0,572.1 349.9,572.6 352.8,572.9 355.8,573.2 358.7,573.4 361.6,573.6 364.5,573.7 367.5,573.7 370.4,573.8 373.3,573.8 376.2,573.8 379.2,573.8 382.1,573.8 385.0,573.9 387.9,573.9 390.9,573.9 393.8,573.9 396.7,573.9 399.6,573.9 402.6,573.9 405.5,573.9 408.4,573.9 411.3,573.9 414.3,573.9 417.2,573.9 420.1,573.9 423.0,573.9 425.9,573.9 428.9,573.9 431.8,573.9 434.7,573.9 437.6,573.9 440.6,573.9 443.5,573.9 446.4,573.9 449.3,573.9 452.3,573.9 455.2,573.9 458.1,573.9 461.0,574.0 464.0,574.0 466.9,574.0 469.8,574.0 472.7,574.0 475.7,574.0 478.6,574.0 481.5,574.0 484.4,574.0 487.4,574.0 490.3,574.0 493.2,574.0 496.1,574.0 499.1,574.0 502.0,574.0 504.9,574.0 507.8,574.0 510.8,574.0 513.7,574.0 516.6,574.0 519.5,574.0 522.5,574.0 525.4,574.0 528.3,574.0 531.2,574.0 534.2,574.0 537.1,574.0 540.0,574.0 542.9,574.0 545.9,574.0 548.8,574.0 551.7,574.0 554.6,574.0 557.6,574.0 560.5,574.0 563.4,574.0 566.3,574.0 569.2,574.0 572.2,574.1 575.1,574.1 578.0,574.1 580.9,574.1 583.9,574.1 586.8,574.1 589.7,574.1 592.6,574.1 595.6,574.1 598.5,574.1 601.4,574.1 604.3,574.1 607.3,574.1 610.2,574.1 613.1,574.1 616.0,574.1 619.0,574.1 621.9,574.1 624.8,574.1 627.7,574.1 630.7,574.1 633.6,574.1 636.5,574.1 639.4,574.1 642.4,574.1 645.3,574.1 648.2,574.1 651.1,574.1 654.1,574.1 657.0,574.1 659.9,574.1 662.8,574.1 665.8,574.1 668.7,574.1 671.6,574.1 674.5,574.1 677.5,574.1 680.4,574.1 683.3,574.1 686.2,574.1 689.2,574.1 692.1,574.1 695.0,574.1 697.9,574.1 700.9,574.1 703.8,574.1 706.7,574.1" stroke="#000" stroke-width="3.8" stroke-dasharray="19.2 5.9" stroke-dashoffset="9.9"/>
<g fill="#fff" stroke="#000" stroke-width="1.85"><ellipse cx="962.7" cy="586.5" rx="6.35" ry="6.05"/><ellipse cx="967.0" cy="586.8" rx="6.35" ry="6.05"/><ellipse cx="971.3" cy="585.4" rx="6.35" ry="6.05"/><ellipse cx="975.6" cy="585.8" rx="6.35" ry="6.05"/><ellipse cx="979.8" cy="585.5" rx="6.35" ry="6.05"/><ellipse cx="984.1" cy="585.4" rx="6.35" ry="6.05"/><ellipse cx="988.4" cy="585.7" rx="6.35" ry="6.05"/><ellipse cx="992.7" cy="585.1" rx="6.35" ry="6.05"/><ellipse cx="997.0" cy="586.2" rx="6.35" ry="6.05"/><ellipse cx="1001.3" cy="585.6" rx="6.35" ry="6.05"/><ellipse cx="1005.6" cy="586.1" rx="6.35" ry="6.05"/><ellipse cx="1009.8" cy="586.3" rx="6.35" ry="6.05"/><ellipse cx="1014.1" cy="585.2" rx="6.35" ry="6.05"/><ellipse cx="1018.4" cy="585.2" rx="6.35" ry="6.05"/><ellipse cx="1022.7" cy="586.7" rx="6.35" ry="6.05"/><ellipse cx="1027.0" cy="586.2" rx="6.35" ry="6.05"/><ellipse cx="1031.3" cy="585.3" rx="6.35" ry="6.05"/><ellipse cx="1035.6" cy="584.8" rx="6.35" ry="6.05"/><ellipse cx="1039.8" cy="585.9" rx="6.35" ry="6.05"/><ellipse cx="1044.1" cy="585.5" rx="6.35" ry="6.05"/><ellipse cx="1048.4" cy="586.2" rx="6.35" ry="6.05"/><ellipse cx="1052.7" cy="583.8" rx="6.35" ry="6.05"/><ellipse cx="1057.0" cy="584.9" rx="6.35" ry="6.05"/><ellipse cx="1061.3" cy="584.6" rx="6.35" ry="6.05"/><ellipse cx="1065.6" cy="584.6" rx="6.35" ry="6.05"/><ellipse cx="1069.8" cy="584.2" rx="6.35" ry="6.05"/><ellipse cx="1074.1" cy="584.2" rx="6.35" ry="6.05"/><ellipse cx="1078.4" cy="584.6" rx="6.35" ry="6.05"/><ellipse cx="1082.7" cy="583.6" rx="6.35" ry="6.05"/><ellipse cx="1087.0" cy="583.6" rx="6.35" ry="6.05"/><ellipse cx="1091.3" cy="582.4" rx="6.35" ry="6.05"/><ellipse cx="1095.6" cy="583.2" rx="6.35" ry="6.05"/><ellipse cx="1099.8" cy="582.4" rx="6.35" ry="6.05"/><ellipse cx="1104.1" cy="580.9" rx="6.35" ry="6.05"/><ellipse cx="1108.4" cy="579.7" rx="6.35" ry="6.05"/><ellipse cx="1112.7" cy="579.5" rx="6.35" ry="6.05"/><ellipse cx="1117.0" cy="579.1" rx="6.35" ry="6.05"/><ellipse cx="1121.3" cy="577.6" rx="6.35" ry="6.05"/><ellipse cx="1125.6" cy="576.7" rx="6.35" ry="6.05"/><ellipse cx="1129.8" cy="573.9" rx="6.35" ry="6.05"/><ellipse cx="1134.1" cy="573.4" rx="6.35" ry="6.05"/><ellipse cx="1138.4" cy="572.0" rx="6.35" ry="6.05"/><ellipse cx="1142.7" cy="571.6" rx="6.35" ry="6.05"/><ellipse cx="1147.0" cy="571.3" rx="6.35" ry="6.05"/><ellipse cx="1151.3" cy="569.4" rx="6.35" ry="6.05"/><ellipse cx="1155.6" cy="568.5" rx="6.35" ry="6.05"/><ellipse cx="1159.8" cy="569.0" rx="6.35" ry="6.05"/><ellipse cx="1164.1" cy="569.4" rx="6.35" ry="6.05"/><ellipse cx="1168.4" cy="568.8" rx="6.35" ry="6.05"/><ellipse cx="1172.7" cy="570.4" rx="6.35" ry="6.05"/><ellipse cx="1177.0" cy="570.3" rx="6.35" ry="6.05"/><ellipse cx="1181.3" cy="572.3" rx="6.35" ry="6.05"/><ellipse cx="1185.6" cy="573.5" rx="6.35" ry="6.05"/><ellipse cx="1189.8" cy="573.6" rx="6.35" ry="6.05"/><ellipse cx="1194.1" cy="574.8" rx="6.35" ry="6.05"/><ellipse cx="1198.4" cy="574.9" rx="6.35" ry="6.05"/><ellipse cx="1202.7" cy="577.3" rx="6.35" ry="6.05"/><ellipse cx="1207.0" cy="577.9" rx="6.35" ry="6.05"/><ellipse cx="1211.3" cy="579.4" rx="6.35" ry="6.05"/><ellipse cx="1215.6" cy="580.3" rx="6.35" ry="6.05"/><ellipse cx="1219.8" cy="580.4" rx="6.35" ry="6.05"/><ellipse cx="1224.1" cy="578.8" rx="6.35" ry="6.05"/><ellipse cx="1228.4" cy="579.7" rx="6.35" ry="6.05"/><ellipse cx="1232.7" cy="577.6" rx="6.35" ry="6.05"/><ellipse cx="1237.0" cy="576.8" rx="6.35" ry="6.05"/><ellipse cx="1241.3" cy="577.1" rx="6.35" ry="6.05"/><ellipse cx="1245.6" cy="574.8" rx="6.35" ry="6.05"/><ellipse cx="1249.8" cy="574.4" rx="6.35" ry="6.05"/><ellipse cx="1254.1" cy="572.0" rx="6.35" ry="6.05"/><ellipse cx="1258.4" cy="570.3" rx="6.35" ry="6.05"/><ellipse cx="1262.7" cy="565.4" rx="6.35" ry="6.05"/><ellipse cx="1267.0" cy="560.8" rx="6.35" ry="6.05"/><ellipse cx="1271.3" cy="551.1" rx="6.35" ry="6.05"/><ellipse cx="1275.6" cy="540.5" rx="6.35" ry="6.05"/><ellipse cx="1279.8" cy="525.8" rx="6.35" ry="6.05"/><ellipse cx="1284.1" cy="508.6" rx="6.35" ry="6.05"/><ellipse cx="1288.4" cy="491.5" rx="6.35" ry="6.05"/><ellipse cx="1292.7" cy="475.5" rx="6.35" ry="6.05"/><ellipse cx="1297.0" cy="462.1" rx="6.35" ry="6.05"/><ellipse cx="1301.3" cy="455.2" rx="6.35" ry="6.05"/><ellipse cx="1305.6" cy="457.5" rx="6.35" ry="6.05"/><ellipse cx="1309.8" cy="463.4" rx="6.35" ry="6.05"/><ellipse cx="1314.1" cy="477.1" rx="6.35" ry="6.05"/><ellipse cx="1318.4" cy="495.9" rx="6.35" ry="6.05"/><ellipse cx="1322.7" cy="514.0" rx="6.35" ry="6.05"/><ellipse cx="1327.0" cy="533.7" rx="6.35" ry="6.05"/><ellipse cx="1331.3" cy="547.5" rx="6.35" ry="6.05"/><ellipse cx="1335.6" cy="561.4" rx="6.35" ry="6.05"/><ellipse cx="1339.8" cy="570.3" rx="6.35" ry="6.05"/><ellipse cx="1344.1" cy="574.8" rx="6.35" ry="6.05"/><ellipse cx="1348.4" cy="577.6" rx="6.35" ry="6.05"/><ellipse cx="1352.7" cy="575.6" rx="6.35" ry="6.05"/><ellipse cx="1357.0" cy="571.6" rx="6.35" ry="6.05"/><ellipse cx="1361.3" cy="562.1" rx="6.35" ry="6.05"/><ellipse cx="1365.6" cy="549.1" rx="6.35" ry="6.05"/><ellipse cx="1369.8" cy="530.1" rx="6.35" ry="6.05"/><ellipse cx="1374.1" cy="507.2" rx="6.35" ry="6.05"/><ellipse cx="1378.4" cy="483.6" rx="6.35" ry="6.05"/><ellipse cx="1382.7" cy="458.8" rx="6.35" ry="6.05"/><ellipse cx="1387.0" cy="439.7" rx="6.35" ry="6.05"/><ellipse cx="1391.3" cy="425.1" rx="6.35" ry="6.05"/><ellipse cx="1395.6" cy="419.1" rx="6.35" ry="6.05"/><ellipse cx="1399.8" cy="422.7" rx="6.35" ry="6.05"/><ellipse cx="1404.1" cy="436.7" rx="6.35" ry="6.05"/><ellipse cx="1408.4" cy="457.8" rx="6.35" ry="6.05"/><ellipse cx="1412.7" cy="481.8" rx="6.35" ry="6.05"/><ellipse cx="1417.0" cy="507.6" rx="6.35" ry="6.05"/><ellipse cx="1421.3" cy="530.6" rx="6.35" ry="6.05"/><ellipse cx="1425.6" cy="549.0" rx="6.35" ry="6.05"/><ellipse cx="1429.8" cy="565.7" rx="6.35" ry="6.05"/><ellipse cx="1434.1" cy="576.1" rx="6.35" ry="6.05"/><ellipse cx="1438.4" cy="582.6" rx="6.35" ry="6.05"/><ellipse cx="1442.7" cy="588.5" rx="6.35" ry="6.05"/><ellipse cx="1447.0" cy="591.0" rx="6.35" ry="6.05"/><ellipse cx="1451.3" cy="593.6" rx="6.35" ry="6.05"/><ellipse cx="1455.6" cy="593.0" rx="6.35" ry="6.05"/><ellipse cx="1459.8" cy="596.3" rx="6.35" ry="6.05"/><ellipse cx="1464.1" cy="596.0" rx="6.35" ry="6.05"/><ellipse cx="1468.4" cy="596.2" rx="6.35" ry="6.05"/><ellipse cx="1472.7" cy="594.7" rx="6.35" ry="6.05"/><ellipse cx="1477.0" cy="595.7" rx="6.35" ry="6.05"/><ellipse cx="1481.3" cy="596.3" rx="6.35" ry="6.05"/><ellipse cx="1485.6" cy="597.0" rx="6.35" ry="6.05"/><ellipse cx="1489.8" cy="596.1" rx="6.35" ry="6.05"/><ellipse cx="1494.1" cy="596.4" rx="6.35" ry="6.05"/><ellipse cx="1498.4" cy="597.0" rx="6.35" ry="6.05"/><ellipse cx="1502.7" cy="597.6" rx="6.35" ry="6.05"/><ellipse cx="1507.0" cy="597.5" rx="6.35" ry="6.05"/><ellipse cx="1511.3" cy="596.7" rx="6.35" ry="6.05"/><ellipse cx="1515.6" cy="596.8" rx="6.35" ry="6.05"/><ellipse cx="1519.8" cy="597.0" rx="6.35" ry="6.05"/><ellipse cx="1524.1" cy="597.2" rx="6.35" ry="6.05"/><ellipse cx="1528.4" cy="598.3" rx="6.35" ry="6.05"/><ellipse cx="1532.7" cy="597.2" rx="6.35" ry="6.05"/><ellipse cx="1537.0" cy="597.9" rx="6.35" ry="6.05"/><ellipse cx="1541.3" cy="597.3" rx="6.35" ry="6.05"/><ellipse cx="1545.6" cy="597.1" rx="6.35" ry="6.05"/><ellipse cx="1549.8" cy="597.8" rx="6.35" ry="6.05"/><ellipse cx="1554.1" cy="598.1" rx="6.35" ry="6.05"/><ellipse cx="1558.4" cy="596.9" rx="6.35" ry="6.05"/><ellipse cx="1562.7" cy="597.3" rx="6.35" ry="6.05"/></g>
<polyline points="962.7,585.7 967.0,585.7 971.3,585.6 975.6,585.6 979.8,585.6 984.1,585.6 988.4,585.6 992.7,585.6 997.0,585.6 1001.3,585.6 1005.6,585.6 1009.8,585.6 1014.1,585.6 1018.4,585.6 1022.7,585.5 1027.0,585.5 1031.3,585.5 1035.6,585.5 1039.8,585.5 1044.1,585.4 1048.4,585.4 1052.7,585.3 1057.0,585.2 1061.3,585.1 1065.6,585.0 1069.8,584.8 1074.1,584.6 1078.4,584.4 1082.7,584.1 1087.0,583.7 1091.3,583.2 1095.6,582.7 1099.8,582.1 1104.1,581.3 1108.4,580.5 1112.7,579.6 1117.0,578.6 1121.3,577.5 1125.6,576.4 1129.8,575.2 1134.1,574.0 1138.4,572.9 1142.7,571.8 1147.0,570.9 1151.3,570.2 1155.6,569.7 1159.8,569.4 1164.1,569.4 1168.4,569.6 1172.7,570.1 1177.0,570.9 1181.3,571.8 1185.6,572.8 1189.8,574.0 1194.1,575.1 1198.4,576.2 1202.7,577.1 1207.0,578.0 1211.3,578.6 1215.6,579.0 1219.8,579.2 1224.1,579.1 1228.4,578.9 1232.7,578.4 1237.0,577.7 1241.3,576.9 1245.6,575.9 1249.8,574.6 1254.1,572.8 1258.4,570.1 1262.7,566.1 1267.0,560.1 1271.3,551.6 1275.6,540.1 1279.8,525.7 1284.1,509.1 1288.4,491.7 1292.7,475.4 1297.0,462.8 1301.3,455.9 1305.6,456.3 1309.8,463.9 1314.1,477.7 1318.4,495.3 1322.7,514.4 1327.0,532.7 1331.3,548.6 1335.6,561.3 1339.8,570.2 1344.1,575.6 1348.4,577.5 1352.7,576.0 1357.0,570.9 1361.3,561.7 1365.6,548.1 1369.8,530.0 1374.1,508.0 1378.4,483.8 1382.7,459.6 1387.0,438.7 1391.3,424.2 1395.6,418.7 1399.8,423.2 1404.1,437.1 1408.4,457.8 1412.7,482.3 1417.0,507.4 1421.3,530.6 1425.6,550.1 1429.8,565.2 1434.1,576.3 1438.4,583.8 1442.7,588.6 1447.0,591.5 1451.3,593.2 1455.6,594.2 1459.8,594.8 1464.1,595.2 1468.4,595.5 1472.7,595.7 1477.0,595.9 1481.3,596.1 1485.6,596.2 1489.8,596.4 1494.1,596.5 1498.4,596.6 1502.7,596.7 1507.0,596.8 1511.3,596.9 1515.6,597.0 1519.8,597.0 1524.1,597.1 1528.4,597.2 1532.7,597.2 1537.0,597.3 1541.3,597.3 1545.6,597.4 1549.8,597.4 1554.1,597.5 1558.4,597.5 1562.7,597.5" stroke="#000" stroke-width="3.2"/>
<polyline points="962.7,585.8 967.0,585.8 971.3,585.8 975.6,585.8 979.8,585.8 984.1,585.8 988.4,585.8 992.7,585.8 997.0,585.8 1001.3,585.8 1005.6,585.8 1009.8,585.8 1014.1,585.8 1018.4,585.8 1022.7,585.9 1027.0,585.9 1031.3,585.9 1035.6,585.9 1039.8,585.9 1044.1,585.9 1048.4,585.9 1052.7,585.9 1057.0,585.9 1061.3,585.9 1065.6,585.9 1069.8,585.9 1074.1,585.9 1078.4,585.9 1082.7,585.9 1087.0,585.9 1091.3,585.9 1095.6,585.9 1099.8,585.9 1104.1,585.9 1108.4,585.9 1112.7,586.0 1117.0,586.0 1121.3,586.0 1125.6,586.0 1129.8,586.1 1134.1,586.1 1138.4,586.1 1142.7,586.2 1147.0,586.2 1151.3,586.3 1155.6,586.3 1159.8,586.4 1164.1,586.4 1168.4,586.5 1172.7,586.5 1177.0,586.6 1181.3,586.6 1185.6,586.7 1189.8,586.7 1194.1,586.8 1198.4,586.8 1202.7,586.8 1207.0,586.9 1211.3,586.9 1215.6,586.9 1219.8,587.0 1224.1,587.0 1228.4,587.0 1232.7,587.0 1237.0,587.1 1241.3,587.1 1245.6,587.1 1249.8,587.2 1254.1,587.2 1258.4,587.2 1262.7,587.3 1267.0,587.4 1271.3,587.5 1275.6,587.6 1279.8,587.7 1284.1,587.9 1288.4,588.2 1292.7,588.5 1297.0,588.9 1301.3,589.3 1305.6,589.7 1309.8,590.1 1314.1,590.5 1318.4,590.9 1322.7,591.2 1327.0,591.4 1331.3,591.6 1335.6,591.8 1339.8,591.9 1344.1,591.9 1348.4,592.0 1352.7,592.0 1357.0,592.1 1361.3,592.2 1365.6,592.2 1369.8,592.4 1374.1,592.6 1378.4,592.9 1382.7,593.2 1387.0,593.6 1391.3,594.1 1395.6,594.7 1399.8,595.3 1404.1,595.8 1408.4,596.3 1412.7,596.8 1417.0,597.1 1421.3,597.4 1425.6,597.6 1429.8,597.8 1434.1,597.9 1438.4,598.0 1442.7,598.0 1447.0,598.0 1451.3,598.1 1455.6,598.1 1459.8,598.1 1464.1,598.1 1468.4,598.1 1472.7,598.1 1477.0,598.1 1481.3,598.1 1485.6,598.1 1489.8,598.1 1494.1,598.1 1498.4,598.1 1502.7,598.2 1507.0,598.2 1511.3,598.2 1515.6,598.2 1519.8,598.2 1524.1,598.2 1528.4,598.2 1532.7,598.2 1537.0,598.2 1541.3,598.2 1545.6,598.2 1549.8,598.2 1554.1,598.2 1558.4,598.2 1562.7,598.2" stroke="#000" stroke-width="3.8" stroke-dasharray="19.2 5.9" stroke-dashoffset="9.9"/>
<polyline points="962.7,585.7 967.0,585.7 971.3,585.7 975.6,585.7 979.8,585.7 984.1,585.7 988.4,585.7 992.7,585.7 997.0,585.7 1001.3,585.7 1005.6,585.7 1009.8,585.7 1014.1,585.7 1018.4,585.7 1022.7,585.7 1027.0,585.7 1031.3,585.7 1035.6,585.7 1039.8,585.7 1044.1,585.7 1048.4,585.7 1052.7,585.7 1057.0,585.7 1061.3,585.7 1065.6,585.7 1069.8,585.7 1074.1,585.7 1078.4,585.7 1082.7,585.7 1087.0,585.7 1091.3,585.7 1095.6,585.7 1099.8,585.7 1104.1,585.7 1108.4,585.7 1112.7,585.7 1117.0,585.7 1121.3,585.7 1125.6,585.7 1129.8,585.8 1134.1,585.8 1138.4,585.8 1142.7,585.8 1147.0,585.9 1151.3,585.9 1155.6,586.0 1159.8,586.0 1164.1,586.0 1168.4,586.1 1172.7,586.1 1177.0,586.1 1181.3,586.2 1185.6,586.2 1189.8,586.2 1194.1,586.2 1198.4,586.2 1202.7,586.2 1207.0,586.2 1211.3,586.2 1215.6,586.2 1219.8,586.2 1224.1,586.1 1228.4,586.1 1232.7,586.0 1237.0,585.9 1241.3,585.6 1245.6,585.2 1249.8,584.5 1254.1,583.1 1258.4,580.7 1262.7,576.7 1267.0,570.5 1271.3,561.6 1275.6,549.5 1279.8,534.3 1284.1,516.7 1288.4,498.3 1292.7,481.1 1297.0,467.6 1301.3,459.9 1305.6,459.5 1309.8,466.4 1314.1,479.6 1318.4,496.8 1322.7,515.5 1327.0,533.6 1331.3,549.3 1335.6,561.8 1339.8,570.6 1344.1,575.9 1348.4,577.8 1352.7,576.2 1357.0,571.1 1361.3,561.9 1365.6,548.2 1369.8,530.1 1374.1,508.2 1378.4,483.9 1382.7,459.8 1387.0,438.8 1391.3,424.3 1395.6,418.8 1399.8,423.3 1404.1,437.2 1408.4,457.9 1412.7,482.4 1417.0,507.5 1421.3,530.6 1425.6,550.1 1429.8,565.3 1434.1,576.3 1438.4,583.8 1442.7,588.6 1447.0,591.6 1451.3,593.3 1455.6,594.3 1459.8,594.9 1464.1,595.3 1468.4,595.6 1472.7,595.8 1477.0,596.0 1481.3,596.1 1485.6,596.3 1489.8,596.4 1494.1,596.5 1498.4,596.6 1502.7,596.7 1507.0,596.8 1511.3,596.9 1515.6,597.0 1519.8,597.1 1524.1,597.1 1528.4,597.2 1532.7,597.3 1537.0,597.3 1541.3,597.4 1545.6,597.4 1549.8,597.4 1554.1,597.5 1558.4,597.5 1562.7,597.6" stroke="#ff0000" stroke-width="3.8"/>
<polyline points="962.7,585.8 967.0,585.8 971.3,585.8 975.6,585.8 979.8,585.8 984.1,585.8 988.4,585.8 992.7,585.8 997.0,585.8 1001.3,585.8 1005.6,585.8 1009.8,585.8 1014.1,585.8 1018.4,585.8 1022.7,585.8 1027.0,585.8 1031.3,585.8 1035.6,585.8 1039.8,585.8 1044.1,585.8 1048.4,585.8 1052.7,585.8 1057.0,585.8 1061.3,585.8 1065.6,585.8 1069.8,585.8 1074.1,585.7 1078.4,585.7 1082.7,585.7 1087.0,585.7 1091.3,585.6 1095.6,585.5 1099.8,585.4 1104.1,585.3 1108.4,585.1 1112.7,584.9 1117.0,584.6 1121.3,584.3 1125.6,583.9 1129.8,583.5 1134.1,583.0 1138.4,582.6 1142.7,582.1 1147.0,581.6 1151.3,581.2 1155.6,580.8 1159.8,580.5 1164.1,580.4 1168.4,580.4 1172.7,580.5 1177.0,580.7 1181.3,581.0 1185.6,581.3 1189.8,581.8 1194.1,582.2 1198.4,582.5 1202.7,582.8 1207.0,583.0 1211.3,583.0 1215.6,582.9 1219.8,582.6 1224.1,582.2 1228.4,581.6 1232.7,580.9 1237.0,580.1 1241.3,579.3 1245.6,578.5 1249.8,577.9 1254.1,577.4 1258.4,577.1 1262.7,577.0 1267.0,577.2 1271.3,577.7 1275.6,578.4 1279.8,579.3 1284.1,580.4 1288.4,581.6 1292.7,582.9 1297.0,584.2 1301.3,585.4 1305.6,586.6 1309.8,587.7 1314.1,588.6 1318.4,589.5 1322.7,590.1 1327.0,590.6 1331.3,591.0 1335.6,591.3 1339.8,591.5 1344.1,591.7 1348.4,591.8 1352.7,591.9 1357.0,591.9 1361.3,592.0 1365.6,592.1 1369.8,592.3 1374.1,592.5 1378.4,592.8 1382.7,593.1 1387.0,593.6 1391.3,594.1 1395.6,594.6 1399.8,595.2 1404.1,595.7 1408.4,596.3 1412.7,596.7 1417.0,597.1 1421.3,597.4 1425.6,597.6 1429.8,597.7 1434.1,597.8 1438.4,597.9 1442.7,598.0 1447.0,598.0 1451.3,598.0 1455.6,598.0 1459.8,598.0 1464.1,598.1 1468.4,598.1 1472.7,598.1 1477.0,598.1 1481.3,598.1 1485.6,598.1 1489.8,598.1 1494.1,598.1 1498.4,598.1 1502.7,598.1 1507.0,598.1 1511.3,598.1 1515.6,598.1 1519.8,598.1 1524.1,598.2 1528.4,598.2 1532.7,598.2 1537.0,598.2 1541.3,598.2 1545.6,598.2 1549.8,598.2 1554.1,598.2 1558.4,598.2 1562.7,598.2" stroke="#0080ff" stroke-width="3.8"/>
<polyline points="962.7,585.8 967.0,585.8 971.3,585.8 975.6,585.8 979.8,585.8 984.1,585.8 988.4,585.8 992.7,585.8 997.0,585.8 1001.3,585.8 1005.6,585.8 1009.8,585.8 1014.1,585.8 1018.4,585.7 1022.7,585.7 1027.0,585.7 1031.3,585.7 1035.6,585.7 1039.8,585.7 1044.1,585.6 1048.4,585.6 1052.7,585.6 1057.0,585.5 1061.3,585.4 1065.6,585.3 1069.8,585.1 1074.1,584.9 1078.4,584.7 1082.7,584.5 1087.0,584.1 1091.3,583.7 1095.6,583.3 1099.8,582.8 1104.1,582.2 1108.4,581.6 1112.7,580.9 1117.0,580.2 1121.3,579.5 1125.6,578.8 1129.8,578.0 1134.1,577.4 1138.4,576.8 1142.7,576.3 1147.0,575.9 1151.3,575.6 1155.6,575.5 1159.8,575.6 1164.1,575.8 1168.4,576.2 1172.7,576.6 1177.0,577.2 1181.3,577.9 1185.6,578.7 1189.8,579.5 1194.1,580.3 1198.4,581.0 1202.7,581.8 1207.0,582.5 1211.3,583.2 1215.6,583.8 1219.8,584.3 1224.1,584.8 1228.4,585.2 1232.7,585.6 1237.0,585.9 1241.3,586.2 1245.6,586.4 1249.8,586.6 1254.1,586.7 1258.4,586.9 1262.7,587.0 1267.0,587.1 1271.3,587.3 1275.6,587.4 1279.8,587.6 1284.1,587.8 1288.4,588.1 1292.7,588.4 1297.0,588.8 1301.3,589.2 1305.6,589.6 1309.8,590.0 1314.1,590.4 1318.4,590.8 1322.7,591.1 1327.0,591.4 1331.3,591.6 1335.6,591.7 1339.8,591.8 1344.1,591.9 1348.4,591.9 1352.7,592.0 1357.0,592.0 1361.3,592.1 1365.6,592.2 1369.8,592.3 1374.1,592.6 1378.4,592.8 1382.7,593.2 1387.0,593.6 1391.3,594.1 1395.6,594.7 1399.8,595.2 1404.1,595.8 1408.4,596.3 1412.7,596.7 1417.0,597.1 1421.3,597.4 1425.6,597.6 1429.8,597.8 1434.1,597.9 1438.4,597.9 1442.7,598.0 1447.0,598.0 1451.3,598.0 1455.6,598.0 1459.8,598.1 1464.1,598.1 1468.4,598.1 1472.7,598.1 1477.0,598.1 1481.3,598.1 1485.6,598.1 1489.8,598.1 1494.1,598.1 1498.4,598.1 1502.7,598.1 1507.0,598.1 1511.3,598.1 1515.6,598.1 1519.8,598.2 1524.1,598.2 1528.4,598.2 1532.7,598.2 1537.0,598.2 1541.3,598.2 1545.6,598.2 1549.8,598.2 1554.1,598.2 1558.4,598.2 1562.7,598.2" stroke="#ff0000" stroke-width="3.8" stroke-dasharray="3.5 3.4"/>
<text transform="translate(81.4 47.0) scale(0.9300 1)" x="-2.23" y="0" font-size="29.3" fill="#000" stroke="#000"><tspan>10</tspan></text>
<text transform="translate(87.8 183.8) scale(0.9300 1)" x="-1.17" y="0" font-size="29.3" fill="#000" stroke="#000"><tspan>5</tspan></text>
<text transform="translate(87.8 311.1) scale(0.9300 1)" x="-1.14" y="0" font-size="29.3" fill="#000" stroke="#000"><tspan>0</tspan></text>
<text transform="translate(81.4 339.3) scale(0.9300 1)" x="-2.23" y="0" font-size="29.3" fill="#000" stroke="#000"><tspan>10</tspan></text>
<text transform="translate(87.8 476.2) scale(0.9300 1)" x="-1.17" y="0" font-size="29.3" fill="#000" stroke="#000"><tspan>5</tspan></text>
<text transform="translate(87.8 603.4) scale(0.9300 1)" x="-1.14" y="0" font-size="29.3" fill="#000" stroke="#000"><tspan>0</tspan></text>
<text transform="translate(99.0 626.2) scale(0.9430 1)" x="-2.38" y="0" font-size="31.2" fill="#000" stroke="#000"><tspan>170</tspan></text>
<text transform="translate(245.2 626.2) scale(0.9430 1)" x="-2.38" y="0" font-size="31.2" fill="#000" stroke="#000"><tspan>165</tspan></text>
<text transform="translate(391.4 626.2) scale(0.9430 1)" x="-2.38" y="0" font-size="31.2" fill="#000" stroke="#000"><tspan>160</tspan></text>
<text transform="translate(537.7 626.2) scale(0.9430 1)" x="-2.38" y="0" font-size="31.2" fill="#000" stroke="#000"><tspan>155</tspan></text>
<text transform="translate(683.9 626.2) scale(0.9430 1)" x="-2.38" y="0" font-size="31.2" fill="#000" stroke="#000"><tspan>150</tspan></text>
<text transform="translate(338.8 669.5) scale(1.0000 1)" x="-2.91" y="0" font-size="35.5" fill="#000" stroke="#000"><tspan>Energy [eV]</tspan></text>
<text transform="translate(391.0 720.3) scale(1.0000 1)" x="-2.14" y="0" font-size="34.5" fill="#000" stroke="#000"><tspan>(a)</tspan></text>
<text transform="translate(38.2 515.6) rotate(-90) scale(1.0000 1)" x="-1.62" y="0" font-size="35.6" fill="#000" stroke="#000"><tspan>S </tspan><tspan font-style="italic">2p</tspan><tspan> intensity [10</tspan><tspan font-size="23.5" dy="-15.7">3</tspan><tspan dy="15.7"> Counts]</tspan></text>
<text transform="translate(537.5 50.7) scale(1.0000 1)" x="-0.06" y="0" font-size="29.3" fill="#000" stroke="#000"><tspan>Ar: 0.55 Pa</tspan></text>
<text transform="translate(508.3 86.5) scale(1.0000 1)" x="-0.66" y="0" font-size="29.6" fill="#000" stroke="#000"><tspan>T−S: 150 mm</tspan></text>
<text transform="translate(566.5 120.5) scale(1.0000 1)" x="0.04" y="0" font-size="29.0" fill="#000" stroke="#000"><tspan>with SVA</tspan></text>
<text transform="translate(550.6 343.2) scale(1.0000 1)" x="-0.06" y="0" font-size="29.2" fill="#000" stroke="#000"><tspan>Ar: 4.0 Pa</tspan></text>
<text transform="translate(506.0 375.7) scale(1.0000 1)" x="-0.66" y="0" font-size="29.5" fill="#000" stroke="#000"><tspan>T−S: 150 mm</tspan></text>
<text transform="translate(563.4 407.4) scale(1.0000 1)" x="0.04" y="0" font-size="29.2" fill="#000" stroke="#000"><tspan>with SVA</tspan></text>
<text transform="translate(352.0 64.1) scale(1.0000 1)" x="-0.13" y="0" font-size="29.1" fill="#ff0000" stroke="#ff0000"><tspan>WS</tspan><tspan font-size="20.9" dy="7.9">2</tspan></text>
<text transform="translate(344.4 96.2) scale(1.0529 1)" x="-1.74" y="0" font-size="25.0" fill="#ff0000" stroke="#ff0000"><tspan font-size="28.0" dy="1.0">(</tspan><tspan dy="-1.0">S </tspan><tspan font-style="italic">2p</tspan><tspan font-style="italic" font-size="28.0" dy="1.0">)</tspan></text>
<text transform="translate(210.5 177.4) scale(1.0000 1)" x="-1.36" y="0" font-size="30.0" fill="#0080ff" stroke="#0080ff"><tspan>S</tspan><tspan font-size="21.6" dy="8.1">8</tspan></text>
<text transform="translate(191.9 212.6) scale(1.0499 1)" x="-1.74" y="0" font-size="25.0" fill="#0080ff" stroke="#0080ff"><tspan font-size="28.0" dy="1.0">(</tspan><tspan dy="-1.0">S </tspan><tspan font-style="italic">2p</tspan><tspan font-style="italic" font-size="28.0" dy="1.0">)</tspan></text>
<text transform="translate(536.0 194.6) scale(1.0000 1)" x="-1.34" y="0" font-size="29.6" fill="#0080ff" stroke="#0080ff"><tspan>SiO</tspan><tspan font-size="21.3" dy="8.0">2</tspan></text>
<text transform="translate(528.0 226.5) scale(1.0505 1)" x="-1.74" y="0" font-size="25.0" fill="#0080ff" stroke="#0080ff"><tspan font-size="28.0" dy="1.0">(</tspan><tspan dy="-1.0">Si </tspan><tspan font-style="italic">2s</tspan><tspan font-style="italic" font-size="28.0" dy="1.0">)</tspan></text>
<text transform="translate(359.5 369.8) scale(1.0000 1)" x="-0.13" y="0" font-size="29.1" fill="#ff0000" stroke="#ff0000"><tspan>WS</tspan><tspan font-size="20.9" dy="7.9">2</tspan></text>
<text transform="translate(352.5 403.9) scale(1.0484 1)" x="-1.74" y="0" font-size="25.0" fill="#ff0000" stroke="#ff0000"><tspan font-size="28.0" dy="1.0">(</tspan><tspan dy="-1.0">S </tspan><tspan font-style="italic">2p</tspan><tspan font-style="italic" font-size="28.0" dy="1.0">)</tspan></text>
<text transform="translate(223.3 493.3) scale(1.0000 1)" x="-1.32" y="0" font-size="29.1" fill="#0080ff" stroke="#0080ff"><tspan>S</tspan><tspan font-size="20.9" dy="7.8">8</tspan></text>
<text transform="translate(204.0 527.4) scale(1.0544 1)" x="-1.74" y="0" font-size="25.0" fill="#0080ff" stroke="#0080ff"><tspan font-size="28.0" dy="1.0">(</tspan><tspan dy="-1.0">S </tspan><tspan font-style="italic">2p</tspan><tspan font-style="italic" font-size="28.0" dy="1.0">)</tspan></text>
<text transform="translate(536.0 487.2) scale(1.0000 1)" x="-1.35" y="0" font-size="29.7" fill="#0080ff" stroke="#0080ff"><tspan>SiO</tspan><tspan font-size="21.4" dy="8.0">2</tspan></text>
<text transform="translate(527.9 518.7) scale(1.0519 1)" x="-1.74" y="0" font-size="25.0" fill="#0080ff" stroke="#0080ff"><tspan font-size="28.0" dy="1.0">(</tspan><tspan dy="-1.0">Si </tspan><tspan font-style="italic">2s</tspan><tspan font-style="italic" font-size="28.0" dy="1.0">)</tspan></text>
<text transform="translate(919.0 72.1) scale(0.9300 1)" x="-1.47" y="0" font-size="29.3" fill="#000" stroke="#000"><tspan>20</tspan></text>
<text transform="translate(919.7 193.1) scale(0.9300 1)" x="-2.23" y="0" font-size="29.3" fill="#000" stroke="#000"><tspan>10</tspan></text>
<text transform="translate(933.9 311.4) scale(0.9300 1)" x="-1.14" y="0" font-size="29.3" fill="#000" stroke="#000"><tspan>0</tspan></text>
<text transform="translate(919.0 372.1) scale(0.9300 1)" x="-1.47" y="0" font-size="29.3" fill="#000" stroke="#000"><tspan>20</tspan></text>
<text transform="translate(919.7 493.1) scale(0.9300 1)" x="-2.23" y="0" font-size="29.3" fill="#000" stroke="#000"><tspan>10</tspan></text>
<text transform="translate(933.9 611.4) scale(0.9300 1)" x="-1.14" y="0" font-size="29.3" fill="#000" stroke="#000"><tspan>0</tspan></text>
<text transform="translate(1075.8 633.0) scale(0.9430 1)" x="-0.72" y="0" font-size="31.2" fill="#000" stroke="#000"><tspan>40</tspan></text>
<text transform="translate(1290.4 633.0) scale(0.9430 1)" x="-1.19" y="0" font-size="31.2" fill="#000" stroke="#000"><tspan>35</tspan></text>
<text transform="translate(1504.6 633.0) scale(0.9430 1)" x="-1.19" y="0" font-size="31.2" fill="#000" stroke="#000"><tspan>30</tspan></text>
<text transform="translate(1175.0 669.8) scale(1.0000 1)" x="-2.99" y="0" font-size="36.5" fill="#000" stroke="#000"><tspan>Energy [eV]</tspan></text>
<text transform="translate(1242.7 721.2) scale(1.0000 1)" x="-2.13" y="0" font-size="34.4" fill="#000" stroke="#000"><tspan>(b)</tspan></text>
<text transform="translate(878.2 511.7) rotate(-90) scale(1.0000 1)" x="-0.16" y="0" font-size="36.3" fill="#000" stroke="#000"><tspan>W </tspan><tspan font-style="italic">4f</tspan><tspan> intensity [10</tspan><tspan font-size="24.0" dy="-16.0">3</tspan><tspan dy="16.0"> Counts]</tspan></text>
<text transform="translate(1396.5 41.3) scale(1.0000 1)" x="-0.06" y="0" font-size="29.9" fill="#000" stroke="#000"><tspan>Ar: 0.55 Pa</tspan></text>
<text transform="translate(1440.6 75.9) scale(1.0000 1)" x="-2.28" y="0" font-size="29.9" fill="#000" stroke="#000"><tspan>150 mm</tspan></text>
<text transform="translate(1322.1 75.8) scale(1.0000 1)" x="-0.69" y="0" font-size="30.7" fill="#000" stroke="#000"><tspan>T−S:</tspan></text>
<text transform="translate(1425.0 113.8) scale(1.0000 1)" x="0.04" y="0" font-size="29.9" fill="#000" stroke="#000"><tspan>with SVA</tspan></text>
<text transform="translate(1410.2 339.9) scale(1.0000 1)" x="-0.06" y="0" font-size="29.9" fill="#000" stroke="#000"><tspan>Ar: 4.0 Pa</tspan></text>
<text transform="translate(1362.9 372.6) scale(1.0000 1)" x="-0.68" y="0" font-size="30.3" fill="#000" stroke="#000"><tspan>T−S: 150 mm</tspan></text>
<text transform="translate(1424.2 408.0) scale(1.0000 1)" x="0.04" y="0" font-size="29.9" fill="#000" stroke="#000"><tspan>with SVA</tspan></text>
<text transform="translate(1059.5 207.5) scale(1.0000 1)" x="-1.53" y="0" font-size="30.5" fill="#ff0000" stroke="#ff0000"><tspan>2H−WS</tspan><tspan font-size="22.0" dy="8.2">2</tspan></text>
<text transform="translate(1079.8 241.5) scale(1.0533 1)" x="-1.79" y="0" font-size="25.8" fill="#ff0000" stroke="#ff0000"><tspan font-size="28.9" dy="1.0">(</tspan><tspan dy="-1.0">W </tspan><tspan font-style="italic">5p</tspan><tspan font-style="italic" font-size="28.9" dy="1.0">)</tspan></text>
<text transform="translate(1206.2 207.5) scale(1.0000 1)" x="-0.13" y="0" font-size="30.0" fill="#0080ff" stroke="#0080ff"><tspan>WO</tspan><tspan font-size="21.6" dy="8.1">x</tspan></text>
<text transform="translate(1199.8 241.5) scale(1.0397 1)" x="-1.79" y="0" font-size="25.8" fill="#0080ff" stroke="#0080ff"><tspan font-size="28.9" dy="1.0">(</tspan><tspan dy="-1.0">W </tspan><tspan font-style="italic">4f</tspan><tspan font-style="italic" font-size="28.9" dy="1.0">)</tspan></text>
<text transform="translate(1437.3 193.6) scale(1.0000 1)" x="-1.53" y="0" font-size="30.4" fill="#ff0000" stroke="#ff0000"><tspan>2H−WS</tspan><tspan font-size="21.9" dy="8.2">2</tspan></text>
<text transform="translate(1459.6 228.3) scale(1.0426 1)" x="-1.79" y="0" font-size="25.8" fill="#ff0000" stroke="#ff0000"><tspan font-size="28.9" dy="1.0">(</tspan><tspan dy="-1.0">W </tspan><tspan font-style="italic">4f</tspan><tspan font-style="italic" font-size="28.9" dy="1.0">)</tspan></text>
<text transform="translate(1057.6 507.5) scale(1.0000 1)" x="-1.53" y="0" font-size="30.5" fill="#ff0000" stroke="#ff0000"><tspan>2H−WS</tspan><tspan font-size="22.0" dy="8.2">2</tspan></text>
<text transform="translate(1078.3 541.8) scale(1.0362 1)" x="-1.79" y="0" font-size="25.8" fill="#ff0000" stroke="#ff0000"><tspan font-size="28.9" dy="1.0">(</tspan><tspan dy="-1.0">W </tspan><tspan font-style="italic">5p</tspan><tspan font-style="italic" font-size="28.9" dy="1.0">)</tspan></text>
<text transform="translate(1204.4 507.5) scale(1.0000 1)" x="-0.13" y="0" font-size="29.7" fill="#0080ff" stroke="#0080ff"><tspan>WO</tspan><tspan font-size="21.4" dy="8.0">x</tspan></text>
<text transform="translate(1197.0 541.8) scale(1.0368 1)" x="-1.79" y="0" font-size="25.8" fill="#0080ff" stroke="#0080ff"><tspan font-size="28.9" dy="1.0">(</tspan><tspan dy="-1.0">W </tspan><tspan font-style="italic">4f</tspan><tspan font-style="italic" font-size="28.9" dy="1.0">)</tspan></text>
<text transform="translate(1436.3 497.3) scale(1.0000 1)" x="-1.54" y="0" font-size="30.6" fill="#ff0000" stroke="#ff0000"><tspan>2H−WS</tspan><tspan font-size="22.0" dy="8.3">2</tspan></text>
<text transform="translate(1454.4 534.4) scale(1.0426 1)" x="-1.79" y="0" font-size="25.8" fill="#ff0000" stroke="#ff0000"><tspan font-size="28.9" dy="1.0">(</tspan><tspan dy="-1.0">W </tspan><tspan font-style="italic">4f</tspan><tspan font-style="italic" font-size="28.9" dy="1.0">)</tspan></text>
</svg>
</body></html>
